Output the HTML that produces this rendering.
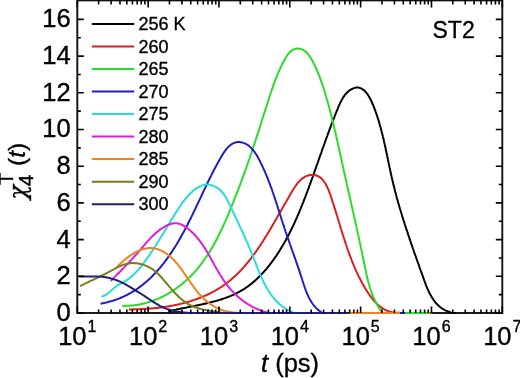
<!DOCTYPE html>
<html><head><meta charset="utf-8"><style>
html,body{margin:0;padding:0;background:#fff;}
svg{display:block;}
text{font-family:"Liberation Sans",Arial,sans-serif;fill:#000;stroke:#000;stroke-width:0.35px;}
</style></head><body>
<svg width="520" height="378" viewBox="0 0 520 378">
<rect width="520" height="378" fill="#fff"/>
<rect x="77.30" y="0.40" width="425.00" height="312.60" fill="none" stroke="#111" stroke-width="1.9"/>
<path d="M168.3 311.5 L169.0 311.3 L169.6 311.1 L170.2 311.0 L170.9 310.8 L171.5 310.7 L172.2 310.5 L172.9 310.4 L173.5 310.2 L174.2 310.1 L174.8 309.9 L175.5 309.8 L176.2 309.6 L176.8 309.5 L177.5 309.3 L178.2 309.2 L178.8 309.0 L179.5 308.9 L180.2 308.8 L180.9 308.6 L181.5 308.5 L182.2 308.3 L182.9 308.2 L183.6 308.1 L184.3 307.9 L185.0 307.8 L185.6 307.7 L186.3 307.5 L187.0 307.4 L187.7 307.2 L188.4 307.1 L189.1 307.0 L189.8 306.8 L190.5 306.7 L191.2 306.6 L191.9 306.4 L192.6 306.3 L193.3 306.1 L193.9 306.0 L194.6 305.9 L195.3 305.7 L196.0 305.6 L196.7 305.4 L197.4 305.3 L198.1 305.2 L198.8 305.0 L199.5 304.9 L200.2 304.7 L200.9 304.6 L201.6 304.4 L202.3 304.3 L203.0 304.1 L203.7 304.0 L204.4 303.8 L205.1 303.7 L205.8 303.5 L206.5 303.3 L207.2 303.2 L207.9 303.0 L208.6 302.8 L209.3 302.7 L209.9 302.5 L210.6 302.3 L211.3 302.2 L212.0 302.0 L212.7 301.8 L213.4 301.6 L214.1 301.4 L214.8 301.3 L215.4 301.1 L216.1 300.9 L216.8 300.7 L217.5 300.5 L218.2 300.3 L218.8 300.1 L219.5 299.9 L220.2 299.7 L220.9 299.5 L221.5 299.2 L222.2 299.0 L222.9 298.8 L223.5 298.6 L224.2 298.4 L224.9 298.1 L225.5 297.9 L226.2 297.7 L226.8 297.4 L227.5 297.2 L228.2 296.9 L228.8 296.7 L229.4 296.4 L230.1 296.1 L230.7 295.9 L231.4 295.6 L232.0 295.3 L232.6 295.1 L233.3 294.8 L233.9 294.5 L234.5 294.2 L235.2 293.9 L235.8 293.6 L236.4 293.3 L237.0 293.0 L237.6 292.7 L238.2 292.4 L238.8 292.0 L239.4 291.7 L240.0 291.4 L240.6 291.0 L241.2 290.7 L241.8 290.3 L242.4 290.0 L243.0 289.6 L243.6 289.3 L244.2 288.9 L244.7 288.5 L245.3 288.1 L245.9 287.7 L246.4 287.4 L247.0 287.0 L247.6 286.6 L248.1 286.2 L248.7 285.8 L249.2 285.4 L249.8 284.9 L250.3 284.5 L250.8 284.1 L251.4 283.7 L251.9 283.2 L252.5 282.8 L253.0 282.4 L253.5 281.9 L254.0 281.5 L254.6 281.0 L255.1 280.6 L255.6 280.1 L256.1 279.6 L256.6 279.2 L257.1 278.7 L257.6 278.2 L258.1 277.8 L258.6 277.3 L259.1 276.8 L259.6 276.3 L260.1 275.8 L260.6 275.3 L261.1 274.8 L261.5 274.3 L262.0 273.8 L262.5 273.3 L263.0 272.8 L263.4 272.3 L263.9 271.8 L264.4 271.2 L264.8 270.7 L265.3 270.2 L265.7 269.7 L266.2 269.1 L266.7 268.6 L267.1 268.1 L267.5 267.5 L268.0 267.0 L268.4 266.4 L268.9 265.9 L269.3 265.3 L269.7 264.8 L270.2 264.2 L270.6 263.7 L271.0 263.1 L271.4 262.5 L271.9 262.0 L272.3 261.4 L272.7 260.9 L273.1 260.3 L273.5 259.7 L273.9 259.1 L274.3 258.6 L274.8 258.0 L275.2 257.4 L275.6 256.8 L276.0 256.2 L276.3 255.7 L276.7 255.1 L277.1 254.5 L277.5 253.9 L277.9 253.3 L278.3 252.7 L278.7 252.1 L279.1 251.5 L279.4 250.9 L279.8 250.3 L280.2 249.7 L280.5 249.1 L280.9 248.5 L281.3 247.9 L281.6 247.3 L282.0 246.7 L282.4 246.1 L282.7 245.5 L283.1 244.9 L283.4 244.3 L283.8 243.7 L284.1 243.1 L284.5 242.5 L284.8 241.8 L285.2 241.2 L285.5 240.6 L285.9 240.0 L286.2 239.4 L286.5 238.8 L286.9 238.1 L287.2 237.5 L287.5 236.9 L287.9 236.3 L288.2 235.7 L288.5 235.0 L288.8 234.4 L289.2 233.8 L289.5 233.2 L289.8 232.5 L290.1 231.9 L290.4 231.3 L290.7 230.7 L291.0 230.0 L291.4 229.4 L291.7 228.8 L292.0 228.1 L292.3 227.5 L292.6 226.9 L292.9 226.2 L293.2 225.6 L293.5 225.0 L293.8 224.3 L294.1 223.7 L294.4 223.1 L294.7 222.4 L295.0 221.8 L295.2 221.2 L295.5 220.5 L295.8 219.9 L296.1 219.2 L296.4 218.6 L296.7 218.0 L297.0 217.3 L297.2 216.7 L297.5 216.0 L297.8 215.4 L298.1 214.8 L298.3 214.1 L298.6 213.5 L298.9 212.8 L299.2 212.2 L299.4 211.5 L299.7 210.9 L300.0 210.2 L300.2 209.6 L300.5 209.0 L300.8 208.3 L301.0 207.7 L301.3 207.0 L301.6 206.4 L301.8 205.7 L302.1 205.1 L302.3 204.4 L302.6 203.8 L302.9 203.1 L303.1 202.5 L303.4 201.8 L303.6 201.2 L303.9 200.5 L304.1 199.9 L304.4 199.2 L304.6 198.6 L304.9 197.9 L305.1 197.3 L305.4 196.6 L305.6 196.0 L305.9 195.3 L306.1 194.7 L306.4 194.0 L306.6 193.4 L306.9 192.7 L307.1 192.1 L307.4 191.4 L307.6 190.8 L307.8 190.1 L308.1 189.5 L308.3 188.8 L308.6 188.2 L308.8 187.5 L309.0 186.9 L309.3 186.2 L309.5 185.6 L309.8 184.9 L310.0 184.3 L310.2 183.6 L310.5 183.0 L310.7 182.3 L310.9 181.7 L311.2 181.0 L311.4 180.4 L311.6 179.7 L311.9 179.1 L312.1 178.4 L312.3 177.8 L312.6 177.1 L312.8 176.5 L313.0 175.8 L313.3 175.2 L313.5 174.5 L313.7 173.9 L314.0 173.2 L314.2 172.6 L314.4 171.9 L314.7 171.3 L314.9 170.6 L315.1 170.0 L315.4 169.3 L315.6 168.6 L315.8 168.0 L316.0 167.3 L316.3 166.7 L316.5 166.0 L316.7 165.4 L317.0 164.7 L317.2 164.1 L317.4 163.4 L317.7 162.8 L317.9 162.1 L318.1 161.5 L318.3 160.8 L318.6 160.2 L318.8 159.5 L319.0 158.9 L319.3 158.2 L319.5 157.6 L319.7 156.9 L320.0 156.3 L320.2 155.6 L320.4 154.9 L320.7 154.3 L320.9 153.6 L321.1 153.0 L321.4 152.3 L321.6 151.7 L321.8 151.0 L322.0 150.4 L322.3 149.7 L322.5 149.0 L322.7 148.4 L323.0 147.7 L323.2 147.1 L323.5 146.4 L323.7 145.8 L323.9 145.1 L324.2 144.4 L324.4 143.8 L324.6 143.1 L324.9 142.5 L325.1 141.8 L325.3 141.1 L325.6 140.5 L325.8 139.8 L326.1 139.2 L326.3 138.5 L326.5 137.8 L326.8 137.2 L327.0 136.5 L327.3 135.8 L327.5 135.2 L327.7 134.5 L328.0 133.9 L328.2 133.2 L328.5 132.5 L328.7 131.9 L329.0 131.2 L329.2 130.5 L329.5 129.9 L329.7 129.2 L330.0 128.5 L330.2 127.9 L330.5 127.2 L330.7 126.5 L331.0 125.9 L331.2 125.2 L331.5 124.5 L331.7 123.8 L332.0 123.2 L332.2 122.5 L332.5 121.8 L332.8 121.2 L333.0 120.5 L333.3 119.8 L333.5 119.1 L333.8 118.5 L334.1 117.8 L334.3 117.1 L334.6 116.4 L334.9 115.8 L335.1 115.1 L335.4 114.4 L335.7 113.7 L335.9 113.0 L336.2 112.4 L336.5 111.7 L336.8 111.0 L337.0 110.3 L337.3 109.6 L337.6 109.0 L337.9 108.3 L338.1 107.6 L338.4 106.9 L338.7 106.2 L339.0 105.6 L339.3 104.9 L339.6 104.2 L339.9 103.6 L340.2 102.9 L340.5 102.2 L340.9 101.6 L341.2 100.9 L341.5 100.3 L341.9 99.7 L342.2 99.1 L342.6 98.4 L342.9 97.8 L343.3 97.2 L343.7 96.7 L344.1 96.1 L344.5 95.5 L344.9 95.0 L345.4 94.4 L345.8 93.9 L346.3 93.4 L346.7 92.9 L347.2 92.4 L347.7 92.0 L348.2 91.5 L348.7 91.1 L349.3 90.6 L349.8 90.2 L350.4 89.9 L351.0 89.5 L351.6 89.2 L352.2 88.8 L352.8 88.6 L353.4 88.3 L354.0 88.1 L354.7 87.9 L355.3 87.7 L355.9 87.6 L356.6 87.6 L357.2 87.5 L357.8 87.6 L358.5 87.6 L359.1 87.7 L359.7 87.9 L360.3 88.1 L360.9 88.3 L361.5 88.6 L362.1 88.9 L362.6 89.3 L363.2 89.7 L363.7 90.1 L364.3 90.5 L364.8 91.0 L365.3 91.5 L365.7 92.1 L366.2 92.6 L366.7 93.2 L367.1 93.8 L367.6 94.4 L368.0 95.0 L368.4 95.6 L368.8 96.3 L369.2 96.9 L369.6 97.6 L369.9 98.2 L370.3 98.9 L370.6 99.6 L371.0 100.2 L371.3 100.9 L371.6 101.5 L371.9 102.2 L372.2 102.8 L372.4 103.5 L372.7 104.1 L373.0 104.8 L373.3 105.4 L373.5 106.1 L373.8 106.7 L374.0 107.4 L374.3 108.0 L374.5 108.7 L374.8 109.3 L375.0 110.0 L375.3 110.6 L375.5 111.3 L375.7 111.9 L376.0 112.6 L376.2 113.2 L376.4 113.9 L376.6 114.6 L376.9 115.2 L377.1 115.9 L377.3 116.5 L377.5 117.2 L377.7 117.9 L377.9 118.5 L378.1 119.2 L378.4 119.9 L378.6 120.5 L378.8 121.2 L379.0 121.9 L379.2 122.5 L379.4 123.2 L379.6 123.9 L379.7 124.5 L379.9 125.2 L380.1 125.9 L380.3 126.6 L380.5 127.2 L380.7 127.9 L380.9 128.6 L381.0 129.3 L381.2 129.9 L381.4 130.6 L381.6 131.3 L381.7 132.0 L381.9 132.6 L382.1 133.3 L382.3 134.0 L382.4 134.7 L382.6 135.4 L382.8 136.0 L382.9 136.7 L383.1 137.4 L383.3 138.1 L383.4 138.8 L383.6 139.4 L383.7 140.1 L383.9 140.8 L384.0 141.5 L384.2 142.2 L384.4 142.9 L384.5 143.5 L384.7 144.2 L384.8 144.9 L385.0 145.6 L385.1 146.3 L385.3 147.0 L385.4 147.6 L385.6 148.3 L385.7 149.0 L385.9 149.7 L386.0 150.4 L386.2 151.1 L386.3 151.8 L386.4 152.4 L386.6 153.1 L386.7 153.8 L386.9 154.5 L387.0 155.2 L387.2 155.9 L387.3 156.6 L387.5 157.3 L387.6 157.9 L387.7 158.6 L387.9 159.3 L388.0 160.0 L388.2 160.7 L388.3 161.4 L388.5 162.1 L388.6 162.7 L388.7 163.4 L388.9 164.1 L389.0 164.8 L389.2 165.5 L389.3 166.2 L389.5 166.9 L389.6 167.5 L389.8 168.2 L389.9 168.9 L390.0 169.6 L390.2 170.3 L390.3 171.0 L390.5 171.6 L390.6 172.3 L390.8 173.0 L390.9 173.7 L391.1 174.4 L391.2 175.1 L391.4 175.7 L391.5 176.4 L391.7 177.1 L391.9 177.8 L392.0 178.5 L392.2 179.1 L392.3 179.8 L392.5 180.5 L392.6 181.2 L392.8 181.9 L393.0 182.5 L393.1 183.2 L393.3 183.9 L393.4 184.6 L393.6 185.2 L393.8 185.9 L393.9 186.6 L394.1 187.3 L394.3 187.9 L394.5 188.6 L394.6 189.3 L394.8 190.0 L395.0 190.6 L395.1 191.3 L395.3 192.0 L395.5 192.6 L395.7 193.3 L395.9 194.0 L396.0 194.7 L396.2 195.3 L396.4 196.0 L396.6 196.7 L396.8 197.3 L396.9 198.0 L397.1 198.7 L397.3 199.3 L397.5 200.0 L397.7 200.7 L397.9 201.4 L398.1 202.0 L398.2 202.7 L398.4 203.4 L398.6 204.0 L398.8 204.7 L399.0 205.4 L399.2 206.0 L399.4 206.7 L399.6 207.3 L399.8 208.0 L400.0 208.7 L400.2 209.3 L400.4 210.0 L400.6 210.7 L400.8 211.3 L401.0 212.0 L401.2 212.7 L401.4 213.3 L401.6 214.0 L401.8 214.7 L402.0 215.3 L402.2 216.0 L402.4 216.6 L402.6 217.3 L402.8 218.0 L403.0 218.6 L403.2 219.3 L403.4 220.0 L403.6 220.6 L403.9 221.3 L404.1 221.9 L404.3 222.6 L404.5 223.3 L404.7 223.9 L404.9 224.6 L405.1 225.3 L405.3 225.9 L405.6 226.6 L405.8 227.2 L406.0 227.9 L406.2 228.6 L406.4 229.2 L406.6 229.9 L406.9 230.6 L407.1 231.2 L407.3 231.9 L407.5 232.5 L407.7 233.2 L408.0 233.9 L408.2 234.5 L408.4 235.2 L408.6 235.8 L408.8 236.5 L409.1 237.2 L409.3 237.8 L409.5 238.5 L409.7 239.2 L410.0 239.8 L410.2 240.5 L410.4 241.1 L410.6 241.8 L410.9 242.5 L411.1 243.1 L411.3 243.8 L411.5 244.5 L411.8 245.1 L412.0 245.8 L412.2 246.5 L412.5 247.1 L412.7 247.8 L412.9 248.4 L413.2 249.1 L413.4 249.8 L413.6 250.4 L413.9 251.1 L414.1 251.8 L414.3 252.4 L414.5 253.1 L414.8 253.8 L415.0 254.4 L415.2 255.1 L415.5 255.8 L415.7 256.4 L416.0 257.1 L416.2 257.8 L416.4 258.4 L416.7 259.1 L416.9 259.8 L417.1 260.4 L417.4 261.1 L417.6 261.8 L417.8 262.4 L418.1 263.1 L418.3 263.8 L418.6 264.4 L418.8 265.1 L419.0 265.8 L419.3 266.4 L419.5 267.1 L419.7 267.8 L420.0 268.5 L420.2 269.1 L420.5 269.8 L420.7 270.5 L420.9 271.1 L421.2 271.8 L421.4 272.5 L421.7 273.2 L421.9 273.8 L422.1 274.5 L422.4 275.2 L422.6 275.9 L422.9 276.5 L423.1 277.2 L423.3 277.9 L423.6 278.6 L423.8 279.2 L424.1 279.9 L424.3 280.6 L424.6 281.3 L424.8 281.9 L425.1 282.6 L425.3 283.3 L425.6 283.9 L425.8 284.6 L426.1 285.3 L426.3 285.9 L426.6 286.6 L426.9 287.2 L427.1 287.9 L427.4 288.5 L427.7 289.2 L428.0 289.8 L428.3 290.5 L428.6 291.1 L428.8 291.7 L429.1 292.4 L429.5 293.0 L429.8 293.6 L430.1 294.2 L430.4 294.8 L430.7 295.4 L431.1 296.0 L431.4 296.6 L431.8 297.2 L432.1 297.7 L432.5 298.3 L432.8 298.9 L433.2 299.4 L433.6 300.0 L434.0 300.5 L434.4 301.0 L434.8 301.6 L435.2 302.1 L435.6 302.6 L436.0 303.1 L436.5 303.6 L436.9 304.1 L437.4 304.5 L437.8 305.0 L438.3 305.4 L438.8 305.9 L439.3 306.3 L439.8 306.7 L440.3 307.2 L440.8 307.6 L441.4 307.9 L441.9 308.3 L442.5 308.7 L443.0 309.1 L443.6 309.4 L444.2 309.7 L444.8 310.1 L445.4 310.4 L446.1 310.7 L446.7 310.9 L447.4 311.2 L448.0 311.5 L448.7 311.7 L449.4 312.0 L450.1 312.2 L450.8 312.4 L451.6 312.6 L452.3 312.8 L453.1 312.9 L453.9 313.0 L454.7 313.0 L455.5 313.0 L456.3 313.0" fill="none" stroke="#000000" stroke-width="2" stroke-linejoin="round"/>
<path d="M128.8 309.4 L129.5 309.4 L130.2 309.4 L130.9 309.4 L131.6 309.4 L132.3 309.4 L133.0 309.4 L133.7 309.3 L134.3 309.3 L135.0 309.3 L135.7 309.3 L136.4 309.3 L137.1 309.3 L137.8 309.2 L138.5 309.2 L139.2 309.2 L139.9 309.2 L140.6 309.1 L141.3 309.1 L142.0 309.1 L142.7 309.0 L143.4 309.0 L144.1 309.0 L144.8 308.9 L145.5 308.9 L146.2 308.8 L146.9 308.8 L147.6 308.8 L148.3 308.7 L149.0 308.7 L149.7 308.6 L150.4 308.5 L151.1 308.5 L151.8 308.4 L152.5 308.4 L153.2 308.3 L153.9 308.2 L154.6 308.2 L155.3 308.1 L156.0 308.0 L156.7 307.9 L157.4 307.9 L158.1 307.8 L158.8 307.7 L159.5 307.6 L160.2 307.5 L160.9 307.4 L161.5 307.4 L162.2 307.3 L162.9 307.2 L163.6 307.1 L164.3 307.0 L165.0 306.9 L165.7 306.8 L166.4 306.6 L167.1 306.5 L167.8 306.4 L168.5 306.3 L169.2 306.2 L169.9 306.1 L170.6 305.9 L171.3 305.8 L172.0 305.7 L172.7 305.6 L173.4 305.4 L174.0 305.3 L174.7 305.1 L175.4 305.0 L176.1 304.9 L176.8 304.7 L177.5 304.6 L178.2 304.4 L178.8 304.3 L179.5 304.1 L180.2 303.9 L180.9 303.8 L181.6 303.6 L182.2 303.4 L182.9 303.3 L183.6 303.1 L184.3 302.9 L185.0 302.7 L185.6 302.5 L186.3 302.4 L187.0 302.2 L187.6 302.0 L188.3 301.8 L189.0 301.6 L189.7 301.4 L190.3 301.2 L191.0 301.0 L191.6 300.8 L192.3 300.5 L193.0 300.3 L193.6 300.1 L194.3 299.9 L194.9 299.7 L195.6 299.4 L196.2 299.2 L196.9 299.0 L197.6 298.7 L198.2 298.5 L198.8 298.2 L199.5 298.0 L200.1 297.7 L200.8 297.5 L201.4 297.2 L202.1 297.0 L202.7 296.7 L203.3 296.4 L204.0 296.2 L204.6 295.9 L205.2 295.6 L205.9 295.3 L206.5 295.0 L207.1 294.8 L207.7 294.5 L208.4 294.2 L209.0 293.9 L209.6 293.6 L210.2 293.3 L210.8 293.0 L211.4 292.6 L212.0 292.3 L212.7 292.0 L213.3 291.7 L213.9 291.4 L214.5 291.0 L215.1 290.7 L215.7 290.4 L216.3 290.0 L216.8 289.7 L217.4 289.3 L218.0 289.0 L218.6 288.6 L219.2 288.2 L219.8 287.9 L220.4 287.5 L220.9 287.1 L221.5 286.8 L222.1 286.4 L222.6 286.0 L223.2 285.6 L223.8 285.2 L224.3 284.8 L224.9 284.4 L225.5 284.0 L226.0 283.6 L226.6 283.2 L227.1 282.8 L227.7 282.4 L228.2 282.0 L228.7 281.5 L229.3 281.1 L229.8 280.7 L230.3 280.2 L230.9 279.8 L231.4 279.3 L231.9 278.9 L232.4 278.4 L233.0 278.0 L233.5 277.5 L234.0 277.1 L234.5 276.6 L235.0 276.1 L235.5 275.7 L236.0 275.2 L236.5 274.7 L237.0 274.2 L237.5 273.7 L238.0 273.2 L238.5 272.7 L239.0 272.2 L239.5 271.7 L240.0 271.2 L240.5 270.7 L240.9 270.2 L241.4 269.7 L241.9 269.2 L242.4 268.7 L242.8 268.2 L243.3 267.6 L243.8 267.1 L244.2 266.6 L244.7 266.1 L245.2 265.5 L245.6 265.0 L246.1 264.5 L246.5 263.9 L247.0 263.4 L247.4 262.8 L247.9 262.3 L248.3 261.7 L248.8 261.2 L249.2 260.6 L249.6 260.1 L250.1 259.5 L250.5 259.0 L251.0 258.4 L251.4 257.9 L251.8 257.3 L252.2 256.7 L252.7 256.2 L253.1 255.6 L253.5 255.0 L253.9 254.5 L254.3 253.9 L254.8 253.3 L255.2 252.7 L255.6 252.2 L256.0 251.6 L256.4 251.0 L256.8 250.4 L257.2 249.8 L257.6 249.2 L258.0 248.7 L258.4 248.1 L258.8 247.5 L259.2 246.9 L259.6 246.3 L260.0 245.7 L260.4 245.1 L260.8 244.5 L261.1 243.9 L261.5 243.4 L261.9 242.8 L262.3 242.2 L262.7 241.6 L263.1 241.0 L263.4 240.4 L263.8 239.8 L264.2 239.2 L264.6 238.6 L264.9 238.0 L265.3 237.4 L265.7 236.8 L266.0 236.2 L266.4 235.6 L266.8 235.0 L267.1 234.4 L267.5 233.8 L267.8 233.2 L268.2 232.6 L268.6 232.0 L268.9 231.4 L269.3 230.9 L269.6 230.3 L270.0 229.7 L270.3 229.1 L270.7 228.5 L271.0 227.9 L271.4 227.3 L271.7 226.7 L272.1 226.1 L272.4 225.5 L272.8 224.9 L273.1 224.3 L273.4 223.8 L273.8 223.2 L274.1 222.6 L274.5 222.0 L274.8 221.4 L275.1 220.8 L275.5 220.3 L275.8 219.7 L276.1 219.1 L276.5 218.5 L276.8 217.9 L277.2 217.4 L277.5 216.8 L277.8 216.2 L278.2 215.6 L278.5 215.0 L278.8 214.5 L279.2 213.9 L279.5 213.3 L279.8 212.7 L280.2 212.1 L280.5 211.5 L280.8 211.0 L281.2 210.4 L281.5 209.8 L281.9 209.2 L282.2 208.6 L282.5 208.0 L282.9 207.4 L283.2 206.8 L283.6 206.2 L283.9 205.6 L284.2 205.0 L284.6 204.4 L284.9 203.8 L285.3 203.2 L285.6 202.6 L286.0 202.0 L286.3 201.3 L286.7 200.7 L287.0 200.1 L287.4 199.5 L287.8 198.8 L288.1 198.2 L288.5 197.6 L288.9 196.9 L289.2 196.3 L289.6 195.6 L290.0 195.0 L290.3 194.3 L290.7 193.7 L291.1 193.0 L291.5 192.4 L291.9 191.7 L292.2 191.1 L292.6 190.4 L293.0 189.8 L293.4 189.1 L293.8 188.5 L294.3 187.8 L294.7 187.2 L295.1 186.6 L295.5 186.0 L296.0 185.4 L296.4 184.8 L296.8 184.2 L297.3 183.6 L297.7 183.0 L298.2 182.5 L298.7 181.9 L299.2 181.4 L299.7 180.9 L300.2 180.4 L300.7 179.9 L301.2 179.4 L301.7 179.0 L302.2 178.6 L302.8 178.2 L303.3 177.8 L303.9 177.4 L304.4 177.1 L305.0 176.7 L305.6 176.4 L306.2 176.2 L306.8 175.9 L307.5 175.7 L308.1 175.5 L308.7 175.3 L309.4 175.2 L310.0 175.1 L310.7 175.0 L311.3 174.9 L312.0 174.9 L312.7 174.9 L313.3 174.9 L313.9 175.0 L314.6 175.0 L315.2 175.2 L315.8 175.3 L316.4 175.5 L317.0 175.7 L317.6 175.9 L318.1 176.2 L318.7 176.5 L319.2 176.8 L319.7 177.1 L320.2 177.5 L320.7 177.9 L321.2 178.3 L321.7 178.8 L322.1 179.2 L322.6 179.7 L323.0 180.2 L323.4 180.7 L323.8 181.3 L324.2 181.8 L324.6 182.4 L325.0 183.0 L325.4 183.6 L325.8 184.2 L326.1 184.9 L326.5 185.5 L326.8 186.2 L327.1 186.8 L327.4 187.5 L327.8 188.2 L328.1 188.9 L328.4 189.6 L328.7 190.3 L329.0 191.1 L329.2 191.8 L329.5 192.5 L329.8 193.3 L330.1 194.0 L330.3 194.7 L330.6 195.5 L330.8 196.2 L331.1 197.0 L331.3 197.7 L331.6 198.4 L331.8 199.2 L332.0 199.9 L332.3 200.6 L332.5 201.4 L332.7 202.1 L333.0 202.8 L333.2 203.5 L333.4 204.2 L333.6 204.9 L333.9 205.6 L334.1 206.3 L334.3 207.0 L334.5 207.7 L334.7 208.4 L334.9 209.0 L335.2 209.7 L335.4 210.4 L335.6 211.1 L335.8 211.7 L336.0 212.4 L336.2 213.0 L336.4 213.7 L336.6 214.4 L336.8 215.0 L337.0 215.7 L337.2 216.3 L337.4 217.0 L337.6 217.6 L337.8 218.3 L338.0 218.9 L338.2 219.6 L338.4 220.2 L338.6 220.8 L338.8 221.5 L339.0 222.1 L339.2 222.8 L339.4 223.4 L339.6 224.0 L339.8 224.7 L340.0 225.3 L340.1 226.0 L340.3 226.6 L340.5 227.2 L340.7 227.9 L340.9 228.5 L341.1 229.2 L341.3 229.8 L341.5 230.4 L341.7 231.1 L341.9 231.7 L342.1 232.4 L342.3 233.0 L342.5 233.7 L342.7 234.3 L342.9 235.0 L343.1 235.6 L343.3 236.3 L343.6 236.9 L343.8 237.6 L344.0 238.2 L344.2 238.9 L344.4 239.5 L344.6 240.2 L344.8 240.8 L345.0 241.5 L345.2 242.2 L345.5 242.8 L345.7 243.5 L345.9 244.1 L346.1 244.8 L346.3 245.4 L346.6 246.1 L346.8 246.8 L347.0 247.4 L347.2 248.1 L347.5 248.8 L347.7 249.4 L347.9 250.1 L348.2 250.7 L348.4 251.4 L348.6 252.1 L348.9 252.7 L349.1 253.4 L349.3 254.0 L349.6 254.7 L349.8 255.4 L350.1 256.0 L350.3 256.7 L350.6 257.4 L350.8 258.0 L351.1 258.7 L351.3 259.3 L351.6 260.0 L351.8 260.6 L352.1 261.3 L352.4 262.0 L352.6 262.6 L352.9 263.3 L353.2 263.9 L353.4 264.6 L353.7 265.2 L354.0 265.9 L354.2 266.6 L354.5 267.2 L354.8 267.9 L355.1 268.5 L355.4 269.2 L355.7 269.8 L355.9 270.4 L356.2 271.1 L356.5 271.7 L356.8 272.4 L357.1 273.0 L357.4 273.7 L357.7 274.3 L358.0 274.9 L358.3 275.6 L358.6 276.2 L359.0 276.9 L359.3 277.5 L359.6 278.1 L359.9 278.8 L360.2 279.4 L360.6 280.0 L360.9 280.6 L361.2 281.3 L361.5 281.9 L361.9 282.5 L362.2 283.1 L362.6 283.7 L362.9 284.4 L363.3 285.0 L363.6 285.6 L364.0 286.2 L364.3 286.8 L364.7 287.4 L365.0 288.0 L365.4 288.6 L365.8 289.2 L366.1 289.8 L366.5 290.4 L366.9 291.0 L367.3 291.6 L367.6 292.2 L368.0 292.7 L368.4 293.3 L368.8 293.9 L369.2 294.5 L369.6 295.1 L370.0 295.6 L370.4 296.2 L370.8 296.7 L371.2 297.3 L371.7 297.9 L372.1 298.4 L372.5 298.9 L372.9 299.5 L373.4 300.0 L373.8 300.5 L374.3 301.1 L374.7 301.6 L375.2 302.1 L375.7 302.6 L376.1 303.0 L376.6 303.5 L377.1 304.0 L377.6 304.5 L378.1 304.9 L378.6 305.4 L379.1 305.8 L379.6 306.2 L380.1 306.6 L380.7 307.0 L381.2 307.4 L381.8 307.8 L382.3 308.2 L382.9 308.5 L383.5 308.9 L384.0 309.2 L384.6 309.5 L385.2 309.8 L385.8 310.1 L386.5 310.4 L387.1 310.7 L387.7 310.9 L388.4 311.2 L389.0 311.4 L389.7 311.6 L390.4 311.8 L391.0 312.0 L391.7 312.1 L392.5 312.3 L393.2 312.4 L393.9 312.5 L394.6 312.6 L395.4 312.7 L396.1 312.7 L396.9 312.8 L397.7 312.8 L398.5 312.8 L399.3 312.8 L400.1 312.8" fill="none" stroke="#dc1e1e" stroke-width="2" stroke-linejoin="round"/>
<path d="M122.4 305.9 L123.2 305.9 L123.9 305.9 L124.6 305.9 L125.3 305.9 L126.1 305.8 L126.8 305.8 L127.5 305.8 L128.3 305.8 L129.0 305.7 L129.7 305.7 L130.4 305.6 L131.1 305.6 L131.8 305.5 L132.6 305.4 L133.3 305.4 L134.0 305.3 L134.7 305.2 L135.4 305.1 L136.1 305.0 L136.8 304.9 L137.5 304.8 L138.2 304.7 L138.9 304.5 L139.6 304.4 L140.3 304.3 L141.0 304.1 L141.7 304.0 L142.3 303.8 L143.0 303.7 L143.7 303.5 L144.4 303.4 L145.1 303.2 L145.8 303.0 L146.4 302.8 L147.1 302.6 L147.8 302.4 L148.4 302.2 L149.1 302.0 L149.8 301.8 L150.4 301.6 L151.1 301.4 L151.8 301.2 L152.4 300.9 L153.1 300.7 L153.7 300.5 L154.4 300.2 L155.0 300.0 L155.7 299.7 L156.3 299.4 L157.0 299.2 L157.6 298.9 L158.2 298.6 L158.9 298.4 L159.5 298.1 L160.2 297.8 L160.8 297.5 L161.4 297.2 L162.0 296.9 L162.7 296.6 L163.3 296.3 L163.9 296.0 L164.5 295.6 L165.1 295.3 L165.7 295.0 L166.3 294.6 L167.0 294.3 L167.6 294.0 L168.2 293.6 L168.8 293.3 L169.4 292.9 L169.9 292.6 L170.5 292.2 L171.1 291.8 L171.7 291.5 L172.3 291.1 L172.9 290.7 L173.5 290.3 L174.0 289.9 L174.6 289.5 L175.2 289.1 L175.8 288.7 L176.3 288.3 L176.9 287.9 L177.4 287.5 L178.0 287.1 L178.6 286.7 L179.1 286.3 L179.7 285.8 L180.2 285.4 L180.8 285.0 L181.3 284.6 L181.8 284.1 L182.4 283.7 L182.9 283.2 L183.5 282.8 L184.0 282.3 L184.5 281.9 L185.0 281.4 L185.6 281.0 L186.1 280.5 L186.6 280.0 L187.1 279.5 L187.6 279.1 L188.1 278.6 L188.6 278.1 L189.1 277.6 L189.6 277.1 L190.1 276.7 L190.6 276.2 L191.1 275.7 L191.6 275.2 L192.1 274.7 L192.6 274.2 L193.0 273.7 L193.5 273.1 L194.0 272.6 L194.5 272.1 L194.9 271.6 L195.4 271.1 L195.8 270.6 L196.3 270.0 L196.8 269.5 L197.2 269.0 L197.7 268.4 L198.1 267.9 L198.5 267.4 L199.0 266.8 L199.4 266.3 L199.9 265.7 L200.3 265.2 L200.7 264.6 L201.1 264.1 L201.6 263.5 L202.0 263.0 L202.4 262.4 L202.8 261.9 L203.2 261.3 L203.6 260.7 L204.0 260.2 L204.4 259.6 L204.8 259.0 L205.2 258.5 L205.6 257.9 L206.0 257.3 L206.4 256.7 L206.8 256.2 L207.2 255.6 L207.6 255.0 L207.9 254.4 L208.3 253.8 L208.7 253.2 L209.1 252.7 L209.4 252.1 L209.8 251.5 L210.2 250.9 L210.5 250.3 L210.9 249.7 L211.2 249.1 L211.6 248.5 L212.0 247.9 L212.3 247.3 L212.7 246.7 L213.0 246.1 L213.3 245.4 L213.7 244.8 L214.0 244.2 L214.4 243.6 L214.7 243.0 L215.0 242.4 L215.4 241.8 L215.7 241.2 L216.0 240.5 L216.4 239.9 L216.7 239.3 L217.0 238.7 L217.3 238.0 L217.7 237.4 L218.0 236.8 L218.3 236.2 L218.6 235.5 L218.9 234.9 L219.2 234.3 L219.5 233.6 L219.9 233.0 L220.2 232.4 L220.5 231.8 L220.8 231.1 L221.1 230.5 L221.4 229.8 L221.7 229.2 L222.0 228.6 L222.3 227.9 L222.6 227.3 L222.9 226.7 L223.2 226.0 L223.4 225.4 L223.7 224.7 L224.0 224.1 L224.3 223.5 L224.6 222.8 L224.9 222.2 L225.2 221.5 L225.5 220.9 L225.7 220.2 L226.0 219.6 L226.3 218.9 L226.6 218.3 L226.9 217.6 L227.1 217.0 L227.4 216.4 L227.7 215.7 L228.0 215.1 L228.2 214.4 L228.5 213.8 L228.8 213.1 L229.0 212.5 L229.3 211.8 L229.6 211.2 L229.9 210.5 L230.1 209.9 L230.4 209.2 L230.7 208.6 L230.9 207.9 L231.2 207.3 L231.5 206.6 L231.7 206.0 L232.0 205.3 L232.2 204.7 L232.5 204.1 L232.8 203.4 L233.0 202.8 L233.3 202.1 L233.5 201.5 L233.8 200.8 L234.1 200.2 L234.3 199.5 L234.6 198.9 L234.8 198.2 L235.1 197.6 L235.3 196.9 L235.6 196.3 L235.9 195.6 L236.1 195.0 L236.4 194.3 L236.6 193.7 L236.9 193.0 L237.1 192.4 L237.4 191.7 L237.6 191.1 L237.9 190.4 L238.1 189.8 L238.4 189.1 L238.6 188.5 L238.9 187.8 L239.1 187.2 L239.4 186.5 L239.6 185.9 L239.8 185.2 L240.1 184.6 L240.3 183.9 L240.6 183.3 L240.8 182.6 L241.1 182.0 L241.3 181.3 L241.5 180.7 L241.8 180.0 L242.0 179.4 L242.3 178.7 L242.5 178.1 L242.7 177.4 L243.0 176.8 L243.2 176.1 L243.5 175.5 L243.7 174.8 L243.9 174.2 L244.2 173.5 L244.4 172.9 L244.6 172.2 L244.9 171.6 L245.1 170.9 L245.3 170.3 L245.6 169.6 L245.8 169.0 L246.0 168.3 L246.3 167.6 L246.5 167.0 L246.7 166.3 L247.0 165.7 L247.2 165.0 L247.4 164.4 L247.7 163.7 L247.9 163.1 L248.1 162.4 L248.3 161.7 L248.6 161.1 L248.8 160.4 L249.0 159.8 L249.3 159.1 L249.5 158.5 L249.7 157.8 L249.9 157.1 L250.2 156.5 L250.4 155.8 L250.6 155.2 L250.8 154.5 L251.1 153.8 L251.3 153.2 L251.5 152.5 L251.7 151.9 L252.0 151.2 L252.2 150.5 L252.4 149.9 L252.6 149.2 L252.8 148.5 L253.1 147.9 L253.3 147.2 L253.5 146.6 L253.7 145.9 L254.0 145.2 L254.2 144.6 L254.4 143.9 L254.6 143.2 L254.8 142.6 L255.1 141.9 L255.3 141.2 L255.5 140.6 L255.7 139.9 L255.9 139.2 L256.1 138.6 L256.4 137.9 L256.6 137.2 L256.8 136.5 L257.0 135.9 L257.2 135.2 L257.4 134.5 L257.7 133.9 L257.9 133.2 L258.1 132.5 L258.3 131.8 L258.5 131.2 L258.7 130.5 L259.0 129.8 L259.2 129.1 L259.4 128.5 L259.6 127.8 L259.8 127.1 L260.0 126.4 L260.2 125.8 L260.5 125.1 L260.7 124.4 L260.9 123.8 L261.1 123.1 L261.3 122.4 L261.5 121.7 L261.7 121.1 L262.0 120.4 L262.2 119.7 L262.4 119.0 L262.6 118.4 L262.8 117.7 L263.0 117.0 L263.2 116.3 L263.4 115.7 L263.7 115.0 L263.9 114.3 L264.1 113.6 L264.3 113.0 L264.5 112.3 L264.7 111.6 L264.9 111.0 L265.1 110.3 L265.3 109.6 L265.6 109.0 L265.8 108.3 L266.0 107.6 L266.2 107.0 L266.4 106.3 L266.6 105.6 L266.8 105.0 L267.0 104.3 L267.3 103.6 L267.5 103.0 L267.7 102.3 L267.9 101.6 L268.1 101.0 L268.3 100.3 L268.5 99.7 L268.7 99.0 L269.0 98.4 L269.2 97.7 L269.4 97.0 L269.6 96.4 L269.8 95.7 L270.0 95.1 L270.2 94.4 L270.4 93.8 L270.7 93.1 L270.9 92.5 L271.1 91.8 L271.3 91.2 L271.5 90.5 L271.7 89.9 L272.0 89.3 L272.2 88.6 L272.4 88.0 L272.6 87.3 L272.9 86.7 L273.1 86.0 L273.3 85.4 L273.5 84.7 L273.8 84.1 L274.0 83.4 L274.2 82.8 L274.5 82.2 L274.7 81.5 L275.0 80.9 L275.2 80.2 L275.5 79.6 L275.7 78.9 L276.0 78.3 L276.2 77.6 L276.5 77.0 L276.8 76.3 L277.0 75.7 L277.3 75.0 L277.6 74.4 L277.8 73.7 L278.1 73.1 L278.4 72.4 L278.7 71.8 L279.0 71.1 L279.3 70.4 L279.6 69.8 L279.9 69.1 L280.2 68.5 L280.5 67.8 L280.8 67.1 L281.1 66.5 L281.4 65.8 L281.8 65.1 L282.1 64.5 L282.4 63.8 L282.8 63.1 L283.1 62.4 L283.5 61.8 L283.8 61.1 L284.2 60.4 L284.6 59.7 L284.9 59.1 L285.3 58.4 L285.7 57.7 L286.1 57.1 L286.5 56.5 L286.9 55.8 L287.3 55.2 L287.8 54.6 L288.2 54.1 L288.7 53.5 L289.1 53.0 L289.6 52.5 L290.1 52.0 L290.6 51.5 L291.1 51.1 L291.6 50.7 L292.1 50.3 L292.7 50.0 L293.2 49.7 L293.8 49.4 L294.4 49.2 L295.0 49.0 L295.6 48.8 L296.2 48.7 L296.8 48.6 L297.5 48.6 L298.1 48.6 L298.7 48.6 L299.4 48.7 L300.0 48.8 L300.6 49.0 L301.3 49.2 L301.9 49.4 L302.5 49.6 L303.1 49.9 L303.6 50.3 L304.2 50.6 L304.7 51.0 L305.3 51.4 L305.8 51.9 L306.3 52.3 L306.8 52.8 L307.3 53.3 L307.8 53.9 L308.2 54.4 L308.7 55.0 L309.1 55.6 L309.6 56.2 L310.0 56.8 L310.4 57.4 L310.8 58.1 L311.2 58.7 L311.6 59.4 L312.0 60.0 L312.4 60.7 L312.7 61.4 L313.1 62.1 L313.4 62.8 L313.8 63.5 L314.1 64.1 L314.5 64.8 L314.8 65.5 L315.1 66.2 L315.4 66.8 L315.7 67.5 L316.0 68.2 L316.3 68.8 L316.6 69.5 L316.9 70.2 L317.2 70.8 L317.5 71.5 L317.7 72.1 L318.0 72.8 L318.3 73.4 L318.5 74.1 L318.8 74.7 L319.1 75.4 L319.3 76.0 L319.5 76.7 L319.8 77.3 L320.0 78.0 L320.3 78.6 L320.5 79.2 L320.7 79.9 L321.0 80.5 L321.2 81.2 L321.4 81.8 L321.6 82.5 L321.9 83.1 L322.1 83.8 L322.3 84.4 L322.5 85.0 L322.7 85.7 L323.0 86.3 L323.2 87.0 L323.4 87.6 L323.6 88.3 L323.8 88.9 L324.0 89.6 L324.2 90.3 L324.4 90.9 L324.6 91.6 L324.8 92.2 L325.0 92.9 L325.2 93.5 L325.4 94.2 L325.6 94.8 L325.8 95.5 L326.0 96.2 L326.2 96.8 L326.4 97.5 L326.6 98.2 L326.8 98.8 L327.0 99.5 L327.2 100.1 L327.4 100.8 L327.6 101.5 L327.8 102.1 L327.9 102.8 L328.1 103.5 L328.3 104.1 L328.5 104.8 L328.7 105.5 L328.9 106.1 L329.1 106.8 L329.2 107.5 L329.4 108.2 L329.6 108.8 L329.8 109.5 L330.0 110.2 L330.1 110.9 L330.3 111.5 L330.5 112.2 L330.7 112.9 L330.8 113.5 L331.0 114.2 L331.2 114.9 L331.3 115.6 L331.5 116.3 L331.7 116.9 L331.9 117.6 L332.0 118.3 L332.2 119.0 L332.4 119.6 L332.5 120.3 L332.7 121.0 L332.9 121.7 L333.0 122.4 L333.2 123.1 L333.4 123.7 L333.5 124.4 L333.7 125.1 L333.8 125.8 L334.0 126.5 L334.2 127.1 L334.3 127.8 L334.5 128.5 L334.6 129.2 L334.8 129.9 L335.0 130.6 L335.1 131.3 L335.3 131.9 L335.4 132.6 L335.6 133.3 L335.8 134.0 L335.9 134.7 L336.1 135.4 L336.2 136.0 L336.4 136.7 L336.5 137.4 L336.7 138.1 L336.8 138.8 L337.0 139.5 L337.2 140.2 L337.3 140.9 L337.5 141.5 L337.6 142.2 L337.8 142.9 L337.9 143.6 L338.1 144.3 L338.2 145.0 L338.4 145.7 L338.5 146.4 L338.7 147.0 L338.8 147.7 L339.0 148.4 L339.1 149.1 L339.3 149.8 L339.4 150.5 L339.6 151.2 L339.7 151.9 L339.9 152.5 L340.0 153.2 L340.2 153.9 L340.3 154.6 L340.5 155.3 L340.6 156.0 L340.8 156.7 L340.9 157.4 L341.1 158.0 L341.2 158.7 L341.4 159.4 L341.5 160.1 L341.7 160.8 L341.8 161.5 L342.0 162.2 L342.1 162.9 L342.3 163.5 L342.4 164.2 L342.6 164.9 L342.7 165.6 L342.9 166.3 L343.0 167.0 L343.2 167.6 L343.3 168.3 L343.5 169.0 L343.6 169.7 L343.8 170.4 L343.9 171.1 L344.1 171.7 L344.2 172.4 L344.4 173.1 L344.5 173.8 L344.7 174.5 L344.9 175.2 L345.0 175.8 L345.2 176.5 L345.3 177.2 L345.5 177.9 L345.6 178.6 L345.8 179.3 L345.9 179.9 L346.1 180.6 L346.2 181.3 L346.4 182.0 L346.5 182.7 L346.7 183.3 L346.8 184.0 L347.0 184.7 L347.1 185.4 L347.3 186.1 L347.5 186.7 L347.6 187.4 L347.8 188.1 L347.9 188.8 L348.1 189.5 L348.2 190.1 L348.4 190.8 L348.5 191.5 L348.7 192.2 L348.8 192.9 L349.0 193.5 L349.1 194.2 L349.3 194.9 L349.4 195.6 L349.6 196.3 L349.8 196.9 L349.9 197.6 L350.1 198.3 L350.2 199.0 L350.4 199.7 L350.5 200.3 L350.7 201.0 L350.8 201.7 L351.0 202.4 L351.1 203.0 L351.3 203.7 L351.4 204.4 L351.6 205.1 L351.7 205.8 L351.9 206.4 L352.1 207.1 L352.2 207.8 L352.4 208.5 L352.5 209.2 L352.7 209.8 L352.8 210.5 L353.0 211.2 L353.1 211.9 L353.3 212.6 L353.4 213.2 L353.6 213.9 L353.7 214.6 L353.9 215.3 L354.0 216.0 L354.2 216.6 L354.3 217.3 L354.5 218.0 L354.6 218.7 L354.8 219.4 L354.9 220.0 L355.1 220.7 L355.3 221.4 L355.4 222.1 L355.6 222.8 L355.7 223.4 L355.9 224.1 L356.0 224.8 L356.2 225.5 L356.3 226.2 L356.5 226.8 L356.6 227.5 L356.8 228.2 L356.9 228.9 L357.1 229.6 L357.2 230.2 L357.4 230.9 L357.5 231.6 L357.7 232.3 L357.8 233.0 L358.0 233.7 L358.1 234.3 L358.2 235.0 L358.4 235.7 L358.5 236.4 L358.7 237.1 L358.8 237.8 L359.0 238.4 L359.1 239.1 L359.3 239.8 L359.4 240.5 L359.6 241.2 L359.7 241.9 L359.9 242.5 L360.0 243.2 L360.2 243.9 L360.3 244.6 L360.5 245.3 L360.6 246.0 L360.7 246.7 L360.9 247.3 L361.0 248.0 L361.2 248.7 L361.3 249.4 L361.5 250.1 L361.6 250.8 L361.8 251.5 L361.9 252.2 L362.0 252.8 L362.2 253.5 L362.3 254.2 L362.5 254.9 L362.6 255.6 L362.7 256.3 L362.9 257.0 L363.0 257.7 L363.2 258.4 L363.3 259.1 L363.5 259.7 L363.6 260.4 L363.7 261.1 L363.9 261.8 L364.0 262.5 L364.1 263.2 L364.3 263.9 L364.4 264.6 L364.6 265.3 L364.7 266.0 L364.8 266.7 L365.0 267.4 L365.1 268.1 L365.3 268.8 L365.4 269.4 L365.6 270.1 L365.7 270.8 L365.9 271.5 L366.0 272.2 L366.2 272.9 L366.3 273.6 L366.5 274.3 L366.6 275.0 L366.8 275.6 L366.9 276.3 L367.1 277.0 L367.3 277.7 L367.4 278.4 L367.6 279.1 L367.8 279.8 L367.9 280.4 L368.1 281.1 L368.3 281.8 L368.5 282.5 L368.6 283.1 L368.8 283.8 L369.0 284.5 L369.2 285.2 L369.4 285.8 L369.6 286.5 L369.8 287.2 L370.0 287.8 L370.2 288.5 L370.4 289.1 L370.6 289.8 L370.9 290.5 L371.1 291.1 L371.3 291.8 L371.5 292.4 L371.8 293.1 L372.0 293.7 L372.3 294.4 L372.5 295.0 L372.8 295.6 L373.0 296.3 L373.3 296.9 L373.6 297.5 L373.9 298.2 L374.1 298.8 L374.4 299.4 L374.7 300.0 L375.0 300.7 L375.3 301.3 L375.6 301.9 L375.9 302.5 L376.3 303.1 L376.6 303.7 L376.9 304.3 L377.3 304.9 L377.6 305.5 L378.0 306.1 L378.3 306.7 L378.7 307.3 L379.0 307.9 L379.4 308.4 L379.8 309.0 L380.2 309.6 L380.6 310.2 L381.0 310.7 L381.4 311.3 L381.8 311.8 L382.3 312.4 L382.7 312.9 L383.2 313.0" fill="none" stroke="#28dc28" stroke-width="2" stroke-linejoin="round"/>
<path d="M100.5 303.7 L101.3 303.5 L102.0 303.4 L102.8 303.3 L103.5 303.1 L104.2 303.0 L105.0 302.8 L105.7 302.6 L106.4 302.5 L107.2 302.3 L107.9 302.1 L108.6 301.9 L109.3 301.7 L110.0 301.5 L110.7 301.3 L111.4 301.1 L112.1 300.9 L112.8 300.7 L113.5 300.5 L114.2 300.3 L114.9 300.0 L115.6 299.8 L116.2 299.6 L116.9 299.3 L117.6 299.1 L118.2 298.8 L118.9 298.6 L119.6 298.3 L120.2 298.0 L120.9 297.8 L121.5 297.5 L122.2 297.2 L122.8 296.9 L123.4 296.6 L124.1 296.3 L124.7 296.0 L125.3 295.7 L126.0 295.4 L126.6 295.1 L127.2 294.8 L127.8 294.5 L128.4 294.1 L129.0 293.8 L129.6 293.5 L130.3 293.1 L130.9 292.8 L131.4 292.4 L132.0 292.1 L132.6 291.7 L133.2 291.4 L133.8 291.0 L134.4 290.6 L135.0 290.3 L135.5 289.9 L136.1 289.5 L136.7 289.1 L137.2 288.8 L137.8 288.4 L138.4 288.0 L138.9 287.6 L139.5 287.2 L140.0 286.8 L140.6 286.4 L141.1 285.9 L141.7 285.5 L142.2 285.1 L142.8 284.7 L143.3 284.3 L143.8 283.8 L144.3 283.4 L144.9 283.0 L145.4 282.5 L145.9 282.1 L146.4 281.6 L146.9 281.2 L147.5 280.7 L148.0 280.3 L148.5 279.8 L149.0 279.3 L149.5 278.9 L150.0 278.4 L150.5 277.9 L151.0 277.4 L151.5 277.0 L152.0 276.5 L152.4 276.0 L152.9 275.5 L153.4 275.0 L153.9 274.5 L154.4 274.0 L154.8 273.5 L155.3 273.0 L155.8 272.5 L156.2 272.0 L156.7 271.5 L157.2 271.0 L157.6 270.5 L158.1 270.0 L158.5 269.4 L159.0 268.9 L159.5 268.4 L159.9 267.9 L160.3 267.3 L160.8 266.8 L161.2 266.3 L161.7 265.7 L162.1 265.2 L162.5 264.6 L163.0 264.1 L163.4 263.6 L163.8 263.0 L164.3 262.5 L164.7 261.9 L165.1 261.3 L165.5 260.8 L165.9 260.2 L166.4 259.7 L166.8 259.1 L167.2 258.5 L167.6 258.0 L168.0 257.4 L168.4 256.8 L168.8 256.3 L169.2 255.7 L169.6 255.1 L170.0 254.5 L170.4 253.9 L170.8 253.4 L171.2 252.8 L171.6 252.2 L172.0 251.6 L172.4 251.0 L172.7 250.4 L173.1 249.8 L173.5 249.2 L173.9 248.7 L174.3 248.1 L174.6 247.5 L175.0 246.9 L175.4 246.3 L175.8 245.7 L176.1 245.1 L176.5 244.5 L176.9 243.8 L177.2 243.2 L177.6 242.6 L178.0 242.0 L178.3 241.4 L178.7 240.8 L179.0 240.2 L179.4 239.6 L179.7 239.0 L180.1 238.4 L180.4 237.7 L180.8 237.1 L181.1 236.5 L181.5 235.9 L181.8 235.3 L182.2 234.6 L182.5 234.0 L182.8 233.4 L183.2 232.8 L183.5 232.2 L183.9 231.5 L184.2 230.9 L184.5 230.3 L184.9 229.7 L185.2 229.0 L185.5 228.4 L185.9 227.8 L186.2 227.2 L186.5 226.5 L186.8 225.9 L187.2 225.3 L187.5 224.7 L187.8 224.0 L188.1 223.4 L188.4 222.8 L188.8 222.1 L189.1 221.5 L189.4 220.9 L189.7 220.3 L190.0 219.6 L190.3 219.0 L190.7 218.4 L191.0 217.7 L191.3 217.1 L191.6 216.5 L191.9 215.9 L192.2 215.2 L192.5 214.6 L192.8 214.0 L193.1 213.3 L193.4 212.7 L193.7 212.1 L194.0 211.4 L194.3 210.8 L194.6 210.2 L194.9 209.6 L195.2 208.9 L195.5 208.3 L195.8 207.7 L196.1 207.0 L196.4 206.4 L196.7 205.8 L197.0 205.2 L197.3 204.5 L197.6 203.9 L197.9 203.3 L198.2 202.6 L198.5 202.0 L198.8 201.4 L199.1 200.8 L199.4 200.1 L199.7 199.5 L200.0 198.9 L200.3 198.2 L200.6 197.6 L200.9 197.0 L201.2 196.4 L201.5 195.7 L201.8 195.1 L202.1 194.5 L202.3 193.9 L202.6 193.2 L202.9 192.6 L203.2 192.0 L203.5 191.4 L203.8 190.8 L204.1 190.1 L204.4 189.5 L204.7 188.9 L205.0 188.3 L205.3 187.7 L205.6 187.0 L205.9 186.4 L206.2 185.8 L206.5 185.2 L206.8 184.6 L207.1 183.9 L207.4 183.3 L207.6 182.7 L207.9 182.1 L208.2 181.5 L208.5 180.9 L208.8 180.2 L209.1 179.6 L209.4 179.0 L209.7 178.4 L210.0 177.8 L210.3 177.2 L210.6 176.6 L211.0 176.0 L211.3 175.4 L211.6 174.7 L211.9 174.1 L212.2 173.5 L212.5 172.9 L212.8 172.3 L213.1 171.7 L213.4 171.1 L213.8 170.4 L214.1 169.8 L214.4 169.2 L214.7 168.6 L215.0 168.0 L215.4 167.4 L215.7 166.7 L216.0 166.1 L216.4 165.5 L216.7 164.9 L217.1 164.2 L217.4 163.6 L217.7 163.0 L218.1 162.3 L218.5 161.7 L218.8 161.0 L219.2 160.4 L219.5 159.8 L219.9 159.1 L220.3 158.5 L220.7 157.8 L221.0 157.2 L221.4 156.5 L221.8 155.8 L222.2 155.2 L222.6 154.5 L223.0 153.9 L223.4 153.3 L223.8 152.6 L224.3 152.0 L224.7 151.4 L225.1 150.8 L225.6 150.2 L226.0 149.6 L226.5 149.0 L226.9 148.5 L227.4 147.9 L227.9 147.4 L228.4 146.9 L228.9 146.4 L229.4 145.9 L229.9 145.5 L230.4 145.1 L231.0 144.7 L231.5 144.3 L232.1 143.9 L232.6 143.6 L233.2 143.3 L233.8 143.1 L234.4 142.8 L235.0 142.6 L235.6 142.5 L236.3 142.3 L236.9 142.2 L237.5 142.1 L238.2 142.1 L238.8 142.1 L239.5 142.1 L240.2 142.2 L240.8 142.2 L241.5 142.3 L242.1 142.5 L242.8 142.7 L243.4 142.9 L244.1 143.1 L244.7 143.3 L245.3 143.6 L245.9 143.9 L246.5 144.3 L247.1 144.6 L247.7 145.0 L248.3 145.4 L248.8 145.8 L249.4 146.3 L249.9 146.7 L250.4 147.2 L250.9 147.6 L251.4 148.1 L251.9 148.6 L252.3 149.2 L252.8 149.7 L253.2 150.2 L253.7 150.8 L254.1 151.4 L254.5 151.9 L254.9 152.5 L255.3 153.1 L255.7 153.7 L256.1 154.3 L256.5 154.9 L256.9 155.5 L257.2 156.2 L257.6 156.8 L258.0 157.4 L258.3 158.1 L258.6 158.7 L259.0 159.3 L259.3 160.0 L259.7 160.6 L260.0 161.3 L260.3 161.9 L260.6 162.6 L260.9 163.2 L261.3 163.9 L261.6 164.5 L261.9 165.2 L262.2 165.8 L262.5 166.5 L262.8 167.1 L263.1 167.8 L263.4 168.4 L263.7 169.1 L264.0 169.7 L264.3 170.4 L264.6 171.0 L264.9 171.7 L265.1 172.3 L265.4 173.0 L265.7 173.6 L266.0 174.3 L266.2 174.9 L266.5 175.6 L266.8 176.2 L267.1 176.9 L267.3 177.5 L267.6 178.2 L267.8 178.9 L268.1 179.5 L268.4 180.2 L268.6 180.8 L268.9 181.5 L269.1 182.1 L269.4 182.8 L269.6 183.4 L269.9 184.1 L270.1 184.7 L270.4 185.4 L270.6 186.1 L270.8 186.7 L271.1 187.4 L271.3 188.0 L271.6 188.7 L271.8 189.3 L272.0 190.0 L272.3 190.6 L272.5 191.3 L272.7 192.0 L272.9 192.6 L273.2 193.3 L273.4 193.9 L273.6 194.6 L273.8 195.2 L274.1 195.9 L274.3 196.6 L274.5 197.2 L274.7 197.9 L274.9 198.5 L275.2 199.2 L275.4 199.8 L275.6 200.5 L275.8 201.2 L276.0 201.8 L276.2 202.5 L276.5 203.1 L276.7 203.8 L276.9 204.5 L277.1 205.1 L277.3 205.8 L277.5 206.4 L277.7 207.1 L277.9 207.8 L278.2 208.4 L278.4 209.1 L278.6 209.7 L278.8 210.4 L279.0 211.0 L279.2 211.7 L279.4 212.4 L279.6 213.0 L279.8 213.7 L280.0 214.3 L280.3 215.0 L280.5 215.7 L280.7 216.3 L280.9 217.0 L281.1 217.6 L281.3 218.3 L281.5 219.0 L281.7 219.6 L281.9 220.3 L282.1 220.9 L282.4 221.6 L282.6 222.3 L282.8 222.9 L283.0 223.6 L283.2 224.2 L283.4 224.9 L283.6 225.5 L283.9 226.2 L284.1 226.9 L284.3 227.5 L284.5 228.2 L284.7 228.8 L285.0 229.5 L285.2 230.2 L285.4 230.8 L285.6 231.5 L285.8 232.1 L286.1 232.8 L286.3 233.5 L286.5 234.1 L286.7 234.8 L287.0 235.4 L287.2 236.1 L287.4 236.7 L287.7 237.4 L287.9 238.1 L288.1 238.7 L288.3 239.4 L288.6 240.0 L288.8 240.7 L289.0 241.4 L289.3 242.0 L289.5 242.7 L289.7 243.3 L290.0 244.0 L290.2 244.7 L290.4 245.3 L290.6 246.0 L290.9 246.6 L291.1 247.3 L291.3 248.0 L291.6 248.6 L291.8 249.3 L292.0 249.9 L292.3 250.6 L292.5 251.3 L292.7 251.9 L293.0 252.6 L293.2 253.2 L293.4 253.9 L293.7 254.6 L293.9 255.2 L294.1 255.9 L294.4 256.6 L294.6 257.2 L294.8 257.9 L295.1 258.5 L295.3 259.2 L295.5 259.9 L295.8 260.5 L296.0 261.2 L296.2 261.9 L296.5 262.5 L296.7 263.2 L296.9 263.9 L297.2 264.5 L297.4 265.2 L297.6 265.9 L297.9 266.5 L298.1 267.2 L298.3 267.9 L298.5 268.5 L298.8 269.2 L299.0 269.9 L299.2 270.5 L299.4 271.2 L299.7 271.9 L299.9 272.5 L300.1 273.2 L300.3 273.9 L300.6 274.6 L300.8 275.2 L301.0 275.9 L301.2 276.6 L301.5 277.2 L301.7 277.9 L301.9 278.6 L302.1 279.3 L302.3 279.9 L302.5 280.6 L302.8 281.3 L303.0 282.0 L303.2 282.6 L303.4 283.3 L303.6 284.0 L303.8 284.6 L304.1 285.3 L304.3 286.0 L304.5 286.7 L304.7 287.3 L305.0 288.0 L305.2 288.6 L305.4 289.3 L305.7 290.0 L305.9 290.6 L306.2 291.3 L306.4 291.9 L306.7 292.6 L306.9 293.2 L307.2 293.8 L307.5 294.5 L307.8 295.1 L308.0 295.7 L308.3 296.4 L308.6 297.0 L308.9 297.6 L309.2 298.2 L309.6 298.8 L309.9 299.4 L310.2 300.0 L310.6 300.6 L310.9 301.2 L311.3 301.7 L311.6 302.3 L312.0 302.9 L312.4 303.4 L312.8 304.0 L313.2 304.5 L313.6 305.1 L314.0 305.6 L314.5 306.1 L314.9 306.6 L315.4 307.1 L315.8 307.6 L316.3 308.1 L316.8 308.6 L317.3 309.1 L317.8 309.6 L318.4 310.0 L318.9 310.5 L319.5 310.9 L320.0 311.3 L320.6 311.8 L321.2 312.2 L321.8 312.6 L322.5 313.0 L323.1 313.0" fill="none" stroke="#1e1ec8" stroke-width="2" stroke-linejoin="round"/>
<path d="M101.4 296.6 L102.2 296.4 L102.9 296.2 L103.6 296.0 L104.2 295.7 L104.9 295.4 L105.5 295.0 L106.1 294.7 L106.7 294.3 L107.2 293.9 L107.8 293.5 L108.3 293.1 L108.9 292.6 L109.4 292.2 L109.9 291.7 L110.4 291.3 L110.9 290.8 L111.4 290.3 L111.9 289.9 L112.5 289.4 L113.0 288.9 L113.5 288.5 L114.0 288.0 L114.5 287.6 L115.1 287.2 L115.7 286.8 L116.2 286.4 L116.8 286.0 L117.4 285.6 L118.0 285.2 L118.6 284.8 L119.2 284.5 L119.8 284.1 L120.4 283.8 L121.1 283.4 L121.7 283.1 L122.3 282.8 L122.9 282.4 L123.5 282.1 L124.1 281.7 L124.8 281.3 L125.4 281.0 L126.0 280.6 L126.5 280.2 L127.1 279.8 L127.7 279.4 L128.3 279.0 L128.8 278.6 L129.4 278.2 L129.9 277.8 L130.5 277.3 L131.0 276.9 L131.6 276.5 L132.1 276.0 L132.6 275.5 L133.1 275.1 L133.6 274.6 L134.1 274.1 L134.6 273.6 L135.1 273.1 L135.6 272.7 L136.1 272.2 L136.6 271.6 L137.0 271.1 L137.5 270.6 L138.0 270.1 L138.4 269.6 L138.9 269.1 L139.3 268.5 L139.8 268.0 L140.2 267.4 L140.7 266.9 L141.1 266.4 L141.6 265.8 L142.0 265.3 L142.4 264.7 L142.8 264.2 L143.3 263.6 L143.7 263.0 L144.1 262.5 L144.5 261.9 L144.9 261.3 L145.3 260.8 L145.8 260.2 L146.2 259.6 L146.6 259.1 L147.0 258.5 L147.4 257.9 L147.8 257.4 L148.2 256.8 L148.6 256.2 L149.0 255.6 L149.4 255.1 L149.8 254.5 L150.2 253.9 L150.6 253.3 L150.9 252.7 L151.3 252.2 L151.7 251.6 L152.1 251.0 L152.5 250.4 L152.9 249.8 L153.3 249.3 L153.6 248.7 L154.0 248.1 L154.4 247.5 L154.8 246.9 L155.2 246.3 L155.5 245.8 L155.9 245.2 L156.3 244.6 L156.7 244.0 L157.0 243.4 L157.4 242.8 L157.8 242.2 L158.1 241.6 L158.5 241.1 L158.9 240.5 L159.2 239.9 L159.6 239.3 L160.0 238.7 L160.3 238.1 L160.7 237.5 L161.1 236.9 L161.4 236.3 L161.8 235.7 L162.2 235.1 L162.5 234.5 L162.9 233.9 L163.3 233.3 L163.6 232.7 L164.0 232.1 L164.3 231.6 L164.7 231.0 L165.1 230.4 L165.4 229.8 L165.8 229.2 L166.2 228.6 L166.5 228.0 L166.9 227.4 L167.2 226.8 L167.6 226.2 L168.0 225.6 L168.3 225.0 L168.7 224.4 L169.0 223.8 L169.4 223.2 L169.8 222.6 L170.1 222.0 L170.5 221.4 L170.8 220.8 L171.2 220.2 L171.6 219.6 L171.9 219.0 L172.3 218.4 L172.7 217.8 L173.0 217.2 L173.4 216.6 L173.8 216.0 L174.1 215.4 L174.5 214.8 L174.9 214.2 L175.2 213.6 L175.6 213.0 L176.0 212.4 L176.4 211.8 L176.7 211.2 L177.1 210.6 L177.5 210.0 L177.9 209.5 L178.3 208.9 L178.7 208.3 L179.0 207.7 L179.4 207.1 L179.8 206.6 L180.2 206.0 L180.6 205.4 L181.0 204.8 L181.4 204.3 L181.8 203.7 L182.2 203.2 L182.6 202.6 L183.0 202.0 L183.5 201.5 L183.9 200.9 L184.3 200.4 L184.7 199.8 L185.1 199.3 L185.6 198.8 L186.0 198.2 L186.4 197.7 L186.9 197.2 L187.3 196.6 L187.8 196.1 L188.2 195.6 L188.7 195.1 L189.1 194.6 L189.6 194.1 L190.1 193.6 L190.6 193.1 L191.1 192.6 L191.6 192.2 L192.1 191.7 L192.6 191.2 L193.1 190.8 L193.7 190.3 L194.2 189.9 L194.8 189.5 L195.3 189.1 L195.9 188.7 L196.5 188.3 L197.1 187.9 L197.7 187.5 L198.4 187.1 L199.0 186.8 L199.6 186.5 L200.3 186.2 L201.0 185.9 L201.6 185.6 L202.3 185.4 L203.0 185.2 L203.6 185.0 L204.3 184.9 L205.0 184.7 L205.7 184.6 L206.4 184.6 L207.1 184.6 L207.8 184.6 L208.4 184.6 L209.1 184.7 L209.8 184.8 L210.5 184.9 L211.2 185.1 L211.8 185.3 L212.5 185.5 L213.1 185.7 L213.8 186.0 L214.4 186.3 L215.1 186.6 L215.7 186.9 L216.3 187.3 L216.9 187.7 L217.5 188.1 L218.1 188.5 L218.7 188.9 L219.2 189.4 L219.8 189.8 L220.3 190.3 L220.8 190.8 L221.3 191.3 L221.8 191.8 L222.2 192.3 L222.7 192.8 L223.1 193.4 L223.6 193.9 L224.0 194.5 L224.4 195.1 L224.8 195.6 L225.2 196.2 L225.5 196.8 L225.9 197.4 L226.3 198.0 L226.6 198.6 L226.9 199.2 L227.3 199.8 L227.6 200.5 L227.9 201.1 L228.2 201.7 L228.6 202.4 L228.9 203.0 L229.2 203.6 L229.5 204.3 L229.8 204.9 L230.1 205.6 L230.4 206.2 L230.7 206.8 L231.0 207.5 L231.3 208.1 L231.6 208.8 L231.9 209.4 L232.2 210.0 L232.5 210.7 L232.8 211.3 L233.1 211.9 L233.4 212.6 L233.6 213.2 L233.9 213.8 L234.2 214.5 L234.5 215.1 L234.8 215.7 L235.1 216.4 L235.4 217.0 L235.7 217.6 L236.0 218.3 L236.3 218.9 L236.6 219.5 L236.9 220.1 L237.2 220.8 L237.5 221.4 L237.8 222.0 L238.1 222.6 L238.4 223.3 L238.7 223.9 L239.0 224.5 L239.3 225.2 L239.6 225.8 L239.8 226.4 L240.1 227.0 L240.4 227.7 L240.7 228.3 L241.0 228.9 L241.3 229.5 L241.6 230.2 L241.9 230.8 L242.2 231.4 L242.5 232.0 L242.7 232.7 L243.0 233.3 L243.3 233.9 L243.6 234.6 L243.9 235.2 L244.2 235.8 L244.5 236.4 L244.7 237.1 L245.0 237.7 L245.3 238.3 L245.6 239.0 L245.9 239.6 L246.2 240.2 L246.4 240.9 L246.7 241.5 L247.0 242.1 L247.3 242.8 L247.6 243.4 L247.8 244.0 L248.1 244.7 L248.4 245.3 L248.7 246.0 L248.9 246.6 L249.2 247.2 L249.5 247.9 L249.8 248.5 L250.0 249.2 L250.3 249.8 L250.6 250.5 L250.8 251.1 L251.1 251.8 L251.4 252.4 L251.6 253.1 L251.9 253.7 L252.2 254.4 L252.4 255.0 L252.7 255.7 L253.0 256.4 L253.2 257.0 L253.5 257.7 L253.7 258.3 L254.0 259.0 L254.2 259.7 L254.5 260.3 L254.8 261.0 L255.0 261.7 L255.3 262.3 L255.5 263.0 L255.8 263.7 L256.1 264.3 L256.3 265.0 L256.6 265.7 L256.8 266.3 L257.1 267.0 L257.4 267.7 L257.6 268.3 L257.9 269.0 L258.2 269.6 L258.4 270.3 L258.7 271.0 L259.0 271.6 L259.3 272.3 L259.5 272.9 L259.8 273.6 L260.1 274.3 L260.4 274.9 L260.6 275.6 L260.9 276.2 L261.2 276.9 L261.5 277.5 L261.8 278.2 L262.1 278.8 L262.4 279.4 L262.7 280.1 L263.0 280.7 L263.3 281.4 L263.6 282.0 L263.9 282.6 L264.2 283.2 L264.5 283.9 L264.9 284.5 L265.2 285.1 L265.5 285.7 L265.9 286.3 L266.2 286.9 L266.5 287.5 L266.9 288.1 L267.2 288.7 L267.6 289.3 L267.9 289.9 L268.3 290.5 L268.7 291.1 L269.0 291.7 L269.4 292.3 L269.8 292.8 L270.2 293.4 L270.6 294.0 L271.0 294.5 L271.4 295.1 L271.8 295.6 L272.2 296.2 L272.6 296.7 L273.0 297.2 L273.4 297.8 L273.9 298.3 L274.3 298.8 L274.8 299.3 L275.2 299.8 L275.7 300.3 L276.1 300.8 L276.6 301.3 L277.1 301.8 L277.6 302.3 L278.0 302.7 L278.5 303.2 L279.0 303.7 L279.6 304.1 L280.1 304.6 L280.6 305.0 L281.1 305.5 L281.7 305.9 L282.2 306.3 L282.8 306.7 L283.3 307.1 L283.9 307.5 L284.5 307.9 L285.1 308.3 L285.7 308.7 L286.3 309.1 L286.9 309.4 L287.5 309.8 L288.1 310.1 L288.7 310.5 L289.4 310.8 L290.0 311.1 L290.7 311.4 L291.4 311.8 L292.0 312.1 L292.7 312.3 L293.4 312.6 L294.1 312.9 L294.9 313.0" fill="none" stroke="#28dcdc" stroke-width="2" stroke-linejoin="round"/>
<path d="M110.6 280.9 L111.1 280.5 L111.6 280.0 L112.1 279.5 L112.5 279.0 L113.0 278.5 L113.5 278.1 L114.0 277.6 L114.5 277.1 L115.0 276.6 L115.5 276.1 L116.0 275.6 L116.5 275.1 L116.9 274.6 L117.4 274.2 L117.9 273.7 L118.4 273.2 L118.9 272.7 L119.4 272.2 L119.9 271.7 L120.4 271.2 L120.9 270.7 L121.4 270.2 L121.9 269.7 L122.4 269.2 L122.9 268.7 L123.4 268.2 L123.9 267.6 L124.4 267.1 L124.9 266.6 L125.3 266.1 L125.8 265.6 L126.3 265.1 L126.8 264.6 L127.3 264.1 L127.8 263.6 L128.3 263.0 L128.8 262.5 L129.3 262.0 L129.7 261.5 L130.2 261.0 L130.7 260.5 L131.2 260.0 L131.7 259.4 L132.2 258.9 L132.6 258.4 L133.1 257.9 L133.6 257.4 L134.1 256.9 L134.5 256.3 L135.0 255.8 L135.5 255.3 L135.9 254.8 L136.4 254.3 L136.9 253.7 L137.3 253.2 L137.8 252.7 L138.3 252.2 L138.7 251.7 L139.2 251.1 L139.6 250.6 L140.1 250.1 L140.5 249.6 L141.0 249.1 L141.4 248.5 L141.8 248.0 L142.3 247.5 L142.7 247.0 L143.2 246.5 L143.6 246.0 L144.0 245.4 L144.5 244.9 L144.9 244.4 L145.3 243.9 L145.8 243.4 L146.2 242.9 L146.6 242.4 L147.1 241.9 L147.5 241.4 L148.0 240.9 L148.4 240.4 L148.9 239.9 L149.3 239.4 L149.8 238.9 L150.3 238.4 L150.7 237.9 L151.2 237.4 L151.7 236.9 L152.1 236.4 L152.6 236.0 L153.1 235.5 L153.6 235.0 L154.1 234.5 L154.6 234.1 L155.1 233.6 L155.7 233.2 L156.2 232.7 L156.7 232.2 L157.3 231.8 L157.8 231.4 L158.4 230.9 L158.9 230.5 L159.5 230.1 L160.1 229.6 L160.7 229.2 L161.3 228.8 L161.8 228.4 L162.5 228.0 L163.1 227.6 L163.7 227.3 L164.3 226.9 L164.9 226.5 L165.5 226.2 L166.2 225.9 L166.8 225.5 L167.5 225.2 L168.1 224.9 L168.8 224.7 L169.4 224.4 L170.1 224.2 L170.7 224.0 L171.4 223.8 L172.1 223.6 L172.7 223.5 L173.4 223.4 L174.0 223.3 L174.7 223.2 L175.4 223.2 L176.0 223.2 L176.7 223.3 L177.3 223.4 L178.0 223.5 L178.6 223.6 L179.2 223.8 L179.9 224.0 L180.5 224.2 L181.1 224.5 L181.7 224.7 L182.4 225.0 L183.0 225.3 L183.6 225.7 L184.2 226.0 L184.8 226.4 L185.4 226.8 L186.0 227.2 L186.6 227.6 L187.1 228.0 L187.7 228.4 L188.3 228.9 L188.8 229.3 L189.4 229.8 L189.9 230.3 L190.5 230.8 L191.0 231.2 L191.5 231.7 L192.0 232.2 L192.6 232.7 L193.1 233.2 L193.6 233.7 L194.1 234.2 L194.5 234.8 L195.0 235.3 L195.5 235.8 L196.0 236.3 L196.4 236.8 L196.9 237.4 L197.3 237.9 L197.8 238.4 L198.2 239.0 L198.7 239.5 L199.1 240.1 L199.5 240.6 L199.9 241.2 L200.4 241.7 L200.8 242.3 L201.2 242.9 L201.6 243.4 L202.0 244.0 L202.4 244.6 L202.8 245.1 L203.2 245.7 L203.5 246.3 L203.9 246.9 L204.3 247.4 L204.7 248.0 L205.0 248.6 L205.4 249.2 L205.8 249.8 L206.1 250.4 L206.5 250.9 L206.9 251.5 L207.2 252.1 L207.6 252.7 L207.9 253.3 L208.3 253.9 L208.6 254.5 L209.0 255.1 L209.3 255.7 L209.6 256.3 L210.0 256.9 L210.3 257.5 L210.7 258.1 L211.0 258.7 L211.3 259.3 L211.7 259.9 L212.0 260.5 L212.3 261.1 L212.7 261.7 L213.0 262.4 L213.4 263.0 L213.7 263.6 L214.0 264.2 L214.4 264.8 L214.7 265.4 L215.0 266.0 L215.4 266.6 L215.7 267.2 L216.0 267.8 L216.4 268.4 L216.7 269.0 L217.1 269.6 L217.4 270.2 L217.8 270.8 L218.1 271.4 L218.4 272.0 L218.8 272.6 L219.2 273.2 L219.5 273.8 L219.9 274.4 L220.2 275.0 L220.6 275.5 L221.0 276.1 L221.3 276.7 L221.7 277.3 L222.1 277.9 L222.4 278.5 L222.8 279.0 L223.2 279.6 L223.6 280.2 L224.0 280.8 L224.4 281.3 L224.8 281.9 L225.2 282.5 L225.6 283.0 L226.0 283.6 L226.4 284.2 L226.8 284.7 L227.3 285.3 L227.7 285.8 L228.1 286.4 L228.6 286.9 L229.0 287.4 L229.5 288.0 L229.9 288.5 L230.4 289.0 L230.8 289.6 L231.3 290.1 L231.8 290.6 L232.3 291.1 L232.7 291.6 L233.2 292.1 L233.7 292.6 L234.2 293.1 L234.7 293.6 L235.2 294.1 L235.7 294.6 L236.2 295.1 L236.8 295.6 L237.3 296.1 L237.8 296.5 L238.3 297.0 L238.9 297.5 L239.4 297.9 L240.0 298.4 L240.5 298.8 L241.0 299.3 L241.6 299.7 L242.2 300.1 L242.7 300.5 L243.3 301.0 L243.8 301.4 L244.4 301.8 L245.0 302.2 L245.6 302.6 L246.2 303.0 L246.7 303.4 L247.3 303.8 L247.9 304.1 L248.5 304.5 L249.1 304.9 L249.7 305.2 L250.3 305.6 L250.9 305.9 L251.5 306.3 L252.1 306.6 L252.8 306.9 L253.4 307.3 L254.0 307.6 L254.6 307.9 L255.2 308.2 L255.9 308.5 L256.5 308.8 L257.1 309.0 L257.8 309.3 L258.4 309.6 L259.1 309.8 L259.7 310.1 L260.4 310.3 L261.0 310.6 L261.7 310.8 L262.3 311.0 L263.0 311.2 L263.6 311.4 L264.3 311.6 L264.9 311.8 L265.6 312.0 L266.3 312.2 L266.9 312.3 L267.6 312.5 L268.3 312.6 L268.9 312.8 L269.6 312.9 L270.3 313.0" fill="none" stroke="#dc1edc" stroke-width="2" stroke-linejoin="round"/>
<path d="M115.8 268.3 L116.2 267.9 L116.6 267.4 L117.1 266.9 L117.5 266.5 L118.0 266.0 L118.5 265.5 L119.0 265.0 L119.4 264.6 L119.9 264.1 L120.4 263.6 L120.9 263.1 L121.5 262.6 L122.0 262.2 L122.5 261.7 L123.0 261.2 L123.6 260.8 L124.1 260.3 L124.7 259.8 L125.2 259.4 L125.8 258.9 L126.4 258.4 L126.9 258.0 L127.5 257.6 L128.1 257.1 L128.7 256.7 L129.3 256.3 L129.9 255.8 L130.5 255.4 L131.1 255.0 L131.7 254.6 L132.3 254.2 L132.9 253.8 L133.5 253.5 L134.1 253.1 L134.8 252.7 L135.4 252.4 L136.0 252.1 L136.6 251.7 L137.3 251.4 L137.9 251.1 L138.6 250.8 L139.2 250.5 L139.8 250.3 L140.5 250.0 L141.1 249.8 L141.8 249.6 L142.4 249.3 L143.1 249.1 L143.7 249.0 L144.4 248.8 L145.0 248.6 L145.7 248.5 L146.4 248.4 L147.0 248.3 L147.7 248.2 L148.3 248.1 L149.0 248.1 L149.6 248.0 L150.3 248.0 L150.9 248.0 L151.6 248.1 L152.2 248.1 L152.9 248.2 L153.5 248.2 L154.2 248.3 L154.8 248.5 L155.5 248.6 L156.1 248.8 L156.7 248.9 L157.4 249.1 L158.0 249.3 L158.6 249.5 L159.3 249.8 L159.9 250.0 L160.5 250.3 L161.1 250.6 L161.7 250.8 L162.3 251.2 L162.9 251.5 L163.5 251.8 L164.1 252.2 L164.7 252.5 L165.3 252.9 L165.9 253.3 L166.5 253.7 L167.1 254.1 L167.6 254.5 L168.2 254.9 L168.7 255.3 L169.3 255.8 L169.8 256.2 L170.4 256.7 L170.9 257.2 L171.4 257.6 L171.9 258.1 L172.4 258.6 L173.0 259.1 L173.5 259.6 L173.9 260.2 L174.4 260.7 L174.9 261.2 L175.4 261.7 L175.9 262.3 L176.3 262.8 L176.8 263.4 L177.3 263.9 L177.7 264.5 L178.2 265.0 L178.6 265.6 L179.1 266.2 L179.5 266.8 L179.9 267.3 L180.4 267.9 L180.8 268.5 L181.2 269.1 L181.7 269.7 L182.1 270.2 L182.5 270.8 L182.9 271.4 L183.3 272.0 L183.8 272.6 L184.2 273.2 L184.6 273.8 L185.0 274.3 L185.4 274.9 L185.8 275.5 L186.2 276.1 L186.6 276.7 L187.0 277.3 L187.4 277.9 L187.8 278.5 L188.2 279.0 L188.6 279.6 L189.0 280.2 L189.4 280.8 L189.8 281.4 L190.2 282.0 L190.6 282.5 L191.0 283.1 L191.4 283.7 L191.8 284.3 L192.2 284.8 L192.6 285.4 L193.0 286.0 L193.4 286.5 L193.8 287.1 L194.2 287.6 L194.6 288.2 L195.1 288.7 L195.5 289.3 L195.9 289.8 L196.3 290.4 L196.7 290.9 L197.2 291.4 L197.6 292.0 L198.0 292.5 L198.5 293.0 L198.9 293.6 L199.4 294.1 L199.8 294.6 L200.3 295.1 L200.7 295.6 L201.2 296.1 L201.6 296.6 L202.1 297.1 L202.6 297.5 L203.1 298.0 L203.6 298.5 L204.1 299.0 L204.5 299.4 L205.0 299.9 L205.6 300.3 L206.1 300.8 L206.6 301.2 L207.1 301.6 L207.6 302.1 L208.2 302.5 L208.7 302.9 L209.3 303.3 L209.8 303.7 L210.4 304.1 L211.0 304.5 L211.5 304.8 L212.1 305.2 L212.7 305.6 L213.3 305.9 L213.9 306.3 L214.5 306.6 L215.1 306.9 L215.7 307.3 L216.3 307.6 L217.0 307.9 L217.6 308.2 L218.2 308.5 L218.9 308.7 L219.5 309.0 L220.2 309.3 L220.8 309.5 L221.5 309.8 L222.1 310.0 L222.8 310.2 L223.5 310.5 L224.1 310.7 L224.8 310.9 L225.5 311.1 L226.2 311.2 L226.9 311.4 L227.6 311.6 L228.2 311.7 L228.9 311.9 L229.6 312.0 L230.3 312.1 L231.0 312.2 L231.8 312.3 L232.5 312.4 L233.2 312.5 L233.9 312.5 L234.6 312.6 L235.3 312.6 L236.0 312.7 L236.8 312.7 L237.5 312.7 L238.2 312.7" fill="none" stroke="#f0821e" stroke-width="2" stroke-linejoin="round"/>
<path d="M79.9 286.1 L80.6 285.8 L81.2 285.5 L81.9 285.2 L82.5 284.9 L83.1 284.6 L83.8 284.2 L84.4 283.9 L85.0 283.6 L85.7 283.3 L86.3 283.0 L86.9 282.7 L87.5 282.4 L88.2 282.1 L88.8 281.8 L89.4 281.5 L90.0 281.2 L90.7 280.9 L91.3 280.6 L91.9 280.4 L92.5 280.1 L93.2 279.8 L93.8 279.5 L94.4 279.2 L95.0 278.9 L95.7 278.6 L96.3 278.3 L96.9 278.0 L97.5 277.7 L98.1 277.4 L98.8 277.1 L99.4 276.8 L100.0 276.5 L100.6 276.2 L101.2 275.8 L101.9 275.5 L102.5 275.2 L103.1 274.9 L103.7 274.6 L104.3 274.3 L105.0 274.0 L105.6 273.7 L106.2 273.3 L106.8 273.0 L107.5 272.7 L108.1 272.4 L108.7 272.0 L109.3 271.7 L110.0 271.4 L110.6 271.0 L111.2 270.7 L111.8 270.3 L112.5 270.0 L113.1 269.6 L113.7 269.3 L114.4 268.9 L115.0 268.6 L115.6 268.3 L116.3 267.9 L116.9 267.6 L117.6 267.3 L118.2 267.0 L118.8 266.6 L119.5 266.3 L120.1 266.1 L120.8 265.8 L121.4 265.5 L122.1 265.2 L122.8 265.0 L123.4 264.7 L124.1 264.5 L124.8 264.3 L125.4 264.1 L126.1 263.9 L126.8 263.8 L127.4 263.6 L128.1 263.5 L128.8 263.4 L129.5 263.3 L130.2 263.2 L130.9 263.2 L131.5 263.1 L132.2 263.1 L132.9 263.1 L133.6 263.1 L134.3 263.1 L135.0 263.2 L135.7 263.2 L136.4 263.3 L137.0 263.3 L137.7 263.4 L138.4 263.5 L139.1 263.7 L139.8 263.8 L140.5 263.9 L141.1 264.1 L141.8 264.3 L142.5 264.5 L143.1 264.7 L143.8 264.9 L144.4 265.1 L145.1 265.4 L145.8 265.6 L146.4 265.9 L147.0 266.2 L147.7 266.5 L148.3 266.8 L148.9 267.1 L149.5 267.4 L150.1 267.8 L150.7 268.1 L151.3 268.5 L151.9 268.9 L152.5 269.2 L153.1 269.6 L153.7 270.0 L154.2 270.5 L154.8 270.9 L155.3 271.3 L155.8 271.8 L156.4 272.3 L156.9 272.7 L157.4 273.2 L157.9 273.7 L158.4 274.2 L158.9 274.7 L159.4 275.2 L159.9 275.7 L160.4 276.2 L160.8 276.7 L161.3 277.3 L161.8 277.8 L162.2 278.3 L162.7 278.9 L163.2 279.4 L163.6 279.9 L164.1 280.5 L164.6 281.0 L165.0 281.5 L165.5 282.1 L166.0 282.6 L166.4 283.2 L166.9 283.7 L167.3 284.3 L167.8 284.8 L168.2 285.3 L168.7 285.9 L169.2 286.4 L169.6 287.0 L170.1 287.5 L170.5 288.0 L171.0 288.6 L171.5 289.1 L171.9 289.6 L172.4 290.2 L172.9 290.7 L173.3 291.2 L173.8 291.7 L174.3 292.2 L174.7 292.8 L175.2 293.3 L175.7 293.8 L176.2 294.3 L176.7 294.8 L177.2 295.3 L177.7 295.8 L178.1 296.2 L178.6 296.7 L179.1 297.2 L179.7 297.6 L180.2 298.1 L180.7 298.6 L181.2 299.0 L181.7 299.4 L182.2 299.9 L182.8 300.3 L183.3 300.7 L183.9 301.1 L184.4 301.5 L184.9 301.9 L185.5 302.3 L186.1 302.7 L186.6 303.1 L187.2 303.4 L187.8 303.8 L188.4 304.1 L189.0 304.5 L189.6 304.8 L190.2 305.1 L190.8 305.4 L191.4 305.7 L192.0 306.0 L192.7 306.3 L193.3 306.5 L193.9 306.8 L194.6 307.0 L195.3 307.3 L195.9 307.5 L196.6 307.7 L197.2 307.9 L197.9 308.1 L198.6 308.3 L199.3 308.5 L200.0 308.7 L200.6 308.9 L201.3 309.1 L202.0 309.3 L202.7 309.4 L203.4 309.6 L204.1 309.7 L204.8 309.9 L205.5 310.0 L206.2 310.2 L206.9 310.3 L207.6 310.4 L208.3 310.6 L209.0 310.7 L209.7 310.8 L210.4 310.9 L211.1 311.1 L211.8 311.2 L212.5 311.3 L213.2 311.4 L213.9 311.5 L214.6 311.6 L215.3 311.8 L216.0 311.9 L216.6 312.0 L217.3 312.1 L218.0 312.2 L218.7 312.3 L219.3 312.5 L220.0 312.6 L220.6 312.7 L221.3 312.8 L221.9 313.0" fill="none" stroke="#7d7d19" stroke-width="2" stroke-linejoin="round"/>
<path d="M78.9 276.4 L79.6 276.4 L80.3 276.5 L81.0 276.5 L81.7 276.5 L82.4 276.5 L83.1 276.5 L83.8 276.5 L84.5 276.5 L85.2 276.5 L85.9 276.5 L86.6 276.5 L87.3 276.5 L88.0 276.5 L88.7 276.5 L89.4 276.5 L90.0 276.4 L90.7 276.4 L91.4 276.4 L92.1 276.4 L92.8 276.4 L93.5 276.4 L94.2 276.4 L94.9 276.4 L95.6 276.4 L96.3 276.4 L97.0 276.4 L97.7 276.5 L98.4 276.5 L99.1 276.5 L99.8 276.6 L100.5 276.6 L101.2 276.7 L101.9 276.7 L102.6 276.8 L103.2 276.9 L103.9 277.0 L104.6 277.1 L105.3 277.2 L106.0 277.3 L106.7 277.5 L107.4 277.6 L108.1 277.7 L108.7 277.9 L109.4 278.0 L110.1 278.2 L110.8 278.4 L111.5 278.6 L112.1 278.8 L112.8 279.0 L113.5 279.2 L114.1 279.4 L114.8 279.6 L115.5 279.8 L116.1 280.1 L116.8 280.3 L117.4 280.5 L118.1 280.8 L118.7 281.1 L119.3 281.3 L120.0 281.6 L120.6 281.9 L121.2 282.2 L121.9 282.5 L122.5 282.8 L123.1 283.1 L123.7 283.4 L124.4 283.7 L125.0 284.1 L125.6 284.4 L126.2 284.7 L126.8 285.1 L127.4 285.4 L128.0 285.8 L128.6 286.1 L129.2 286.5 L129.7 286.8 L130.3 287.2 L130.9 287.6 L131.5 287.9 L132.1 288.3 L132.7 288.7 L133.3 289.0 L133.9 289.4 L134.4 289.8 L135.0 290.1 L135.6 290.5 L136.2 290.8 L136.8 291.2 L137.4 291.6 L138.0 291.9 L138.6 292.3 L139.2 292.6 L139.8 293.0 L140.4 293.4 L141.0 293.7 L141.5 294.1 L142.1 294.5 L142.7 294.9 L143.3 295.2 L143.9 295.6 L144.5 296.0 L145.1 296.4 L145.6 296.8 L146.2 297.2 L146.8 297.6 L147.4 298.0 L148.0 298.4 L148.6 298.7 L149.1 299.1 L149.7 299.5 L150.3 299.9 L150.9 300.3 L151.5 300.7 L152.1 301.1 L152.6 301.5 L153.2 301.8 L153.8 302.2 L154.4 302.6 L155.0 303.0 L155.6 303.3 L156.2 303.7 L156.8 304.0 L157.4 304.4 L158.0 304.7 L158.6 305.1 L159.2 305.4 L159.8 305.8 L160.4 306.1 L161.1 306.4 L161.7 306.7 L162.3 307.0 L162.9 307.3 L163.6 307.6 L164.2 307.9 L164.8 308.1 L165.5 308.4 L166.1 308.6 L166.8 308.9 L167.4 309.1 L168.1 309.3 L168.7 309.5 L169.4 309.7 L170.0 309.9 L170.7 310.1 L171.4 310.3 L172.0 310.5 L172.7 310.7 L173.4 310.8 L174.1 311.0 L174.8 311.1 L175.4 311.3 L176.1 311.4 L176.8 311.5 L177.5 311.6 L178.2 311.8 L178.9 311.9 L179.6 312.0 L180.3 312.1 L181.0 312.2 L181.6 312.2 L182.3 312.3 L183.0 312.4 L183.7 312.5 L184.4 312.5 L185.1 312.6 L185.8 312.7 L186.5 312.7 L187.2 312.8 L187.9 312.8 L188.6 312.8 L189.3 312.9 L190.0 312.9" fill="none" stroke="#1e1e78" stroke-width="2" stroke-linejoin="round"/>
<path d="M183.0 313.0 H350.0" stroke="#1e1e78" stroke-width="2"/>
<path d="M350.0 313.0 H400.0" stroke="#f0821e" stroke-width="2"/>
<path d="M400.0 313.0 H405.0" stroke="#1e1ec8" stroke-width="2"/>
<path d="M405.0 313.0 H430.0" stroke="#28dc28" stroke-width="2"/>
<path d="M430.0 313.0 H432.5" stroke="#dc1e1e" stroke-width="2"/>
<path d="M77.30 313.00 V306.50 M77.30 0.40 V7.40 M98.62 313.00 V309.50 M98.62 0.40 V4.60 M111.10 313.00 V309.50 M111.10 0.40 V4.60 M119.95 313.00 V309.50 M119.95 0.40 V4.60 M126.81 313.00 V309.50 M126.81 0.40 V4.60 M132.42 313.00 V309.50 M132.42 0.40 V4.60 M137.16 313.00 V309.50 M137.16 0.40 V4.60 M141.27 313.00 V309.50 M141.27 0.40 V4.60 M144.89 313.00 V309.50 M144.89 0.40 V4.60 M148.13 313.00 V306.50 M148.13 0.40 V7.40 M169.46 313.00 V309.50 M169.46 0.40 V4.60 M181.93 313.00 V309.50 M181.93 0.40 V4.60 M190.78 313.00 V309.50 M190.78 0.40 V4.60 M197.64 313.00 V309.50 M197.64 0.40 V4.60 M203.25 313.00 V309.50 M203.25 0.40 V4.60 M207.99 313.00 V309.50 M207.99 0.40 V4.60 M212.10 313.00 V309.50 M212.10 0.40 V4.60 M215.73 313.00 V309.50 M215.73 0.40 V4.60 M218.97 313.00 V306.50 M218.97 0.40 V7.40 M240.29 313.00 V309.50 M240.29 0.40 V4.60 M252.76 313.00 V309.50 M252.76 0.40 V4.60 M261.61 313.00 V309.50 M261.61 0.40 V4.60 M268.48 313.00 V309.50 M268.48 0.40 V4.60 M274.09 313.00 V309.50 M274.09 0.40 V4.60 M278.83 313.00 V309.50 M278.83 0.40 V4.60 M282.94 313.00 V309.50 M282.94 0.40 V4.60 M286.56 313.00 V309.50 M286.56 0.40 V4.60 M289.80 313.00 V306.50 M289.80 0.40 V7.40 M311.12 313.00 V309.50 M311.12 0.40 V4.60 M323.60 313.00 V309.50 M323.60 0.40 V4.60 M332.45 313.00 V309.50 M332.45 0.40 V4.60 M339.31 313.00 V309.50 M339.31 0.40 V4.60 M344.92 313.00 V309.50 M344.92 0.40 V4.60 M349.66 313.00 V309.50 M349.66 0.40 V4.60 M353.77 313.00 V309.50 M353.77 0.40 V4.60 M357.39 313.00 V309.50 M357.39 0.40 V4.60 M360.63 313.00 V306.50 M360.63 0.40 V7.40 M381.96 313.00 V309.50 M381.96 0.40 V4.60 M394.43 313.00 V309.50 M394.43 0.40 V4.60 M403.28 313.00 V309.50 M403.28 0.40 V4.60 M410.14 313.00 V309.50 M410.14 0.40 V4.60 M415.75 313.00 V309.50 M415.75 0.40 V4.60 M420.49 313.00 V309.50 M420.49 0.40 V4.60 M424.60 313.00 V309.50 M424.60 0.40 V4.60 M428.23 313.00 V309.50 M428.23 0.40 V4.60 M431.47 313.00 V306.50 M431.47 0.40 V7.40 M452.79 313.00 V309.50 M452.79 0.40 V4.60 M465.26 313.00 V309.50 M465.26 0.40 V4.60 M474.11 313.00 V309.50 M474.11 0.40 V4.60 M480.98 313.00 V309.50 M480.98 0.40 V4.60 M486.59 313.00 V309.50 M486.59 0.40 V4.60 M491.33 313.00 V309.50 M491.33 0.40 V4.60 M495.44 313.00 V309.50 M495.44 0.40 V4.60 M499.06 313.00 V309.50 M499.06 0.40 V4.60 M502.30 313.00 V306.50 M502.30 0.40 V7.40 M77.30 313.00 H83.80 M502.30 313.00 H495.80 M77.30 294.65 H80.80 M502.30 294.65 H498.80 M77.30 276.30 H83.80 M502.30 276.30 H495.80 M77.30 257.95 H80.80 M502.30 257.95 H498.80 M77.30 239.60 H83.80 M502.30 239.60 H495.80 M77.30 221.25 H80.80 M502.30 221.25 H498.80 M77.30 202.90 H83.80 M502.30 202.90 H495.80 M77.30 184.55 H80.80 M502.30 184.55 H498.80 M77.30 166.20 H83.80 M502.30 166.20 H495.80 M77.30 147.85 H80.80 M502.30 147.85 H498.80 M77.30 129.50 H83.80 M502.30 129.50 H495.80 M77.30 111.15 H80.80 M502.30 111.15 H498.80 M77.30 92.80 H83.80 M502.30 92.80 H495.80 M77.30 74.45 H80.80 M502.30 74.45 H498.80 M77.30 56.10 H83.80 M502.30 56.10 H495.80 M77.30 37.75 H80.80 M502.30 37.75 H498.80 M77.30 19.40 H83.80 M502.30 19.40 H495.80" stroke="#000" stroke-width="1.6" fill="none"/>
<text x="70.6" y="320.90" font-size="25.5" text-anchor="end">0</text>
<text x="70.6" y="284.20" font-size="25.5" text-anchor="end">2</text>
<text x="70.6" y="247.50" font-size="25.5" text-anchor="end">4</text>
<text x="70.6" y="210.80" font-size="25.5" text-anchor="end">6</text>
<text x="70.6" y="174.10" font-size="25.5" text-anchor="end">8</text>
<text x="70.6" y="137.40" font-size="25.5" text-anchor="end">10</text>
<text x="70.6" y="100.70" font-size="25.5" text-anchor="end">12</text>
<text x="70.6" y="64.00" font-size="25.5" text-anchor="end">14</text>
<text x="70.6" y="27.30" font-size="25.5" text-anchor="end">16</text>
<text x="77.30" y="345" font-size="25.5" text-anchor="middle">10<tspan font-size="16" dx="1" dy="-13">1</tspan></text>
<text x="148.13" y="345" font-size="25.5" text-anchor="middle">10<tspan font-size="16" dx="1" dy="-13">2</tspan></text>
<text x="218.97" y="345" font-size="25.5" text-anchor="middle">10<tspan font-size="16" dx="1" dy="-13">3</tspan></text>
<text x="289.80" y="345" font-size="25.5" text-anchor="middle">10<tspan font-size="16" dx="1" dy="-13">4</tspan></text>
<text x="360.63" y="345" font-size="25.5" text-anchor="middle">10<tspan font-size="16" dx="1" dy="-13">5</tspan></text>
<text x="431.47" y="345" font-size="25.5" text-anchor="middle">10<tspan font-size="16" dx="1" dy="-13">6</tspan></text>
<text x="502.30" y="345" font-size="25.5" text-anchor="middle">10<tspan font-size="16" dx="1" dy="-13">7</tspan></text>
<path d="M91.8 24.00 H134.2" stroke="#000000" stroke-width="2"/>
<text x="138.5" y="30.10" font-size="18">256 K</text>
<path d="M91.8 46.52 H134.2" stroke="#dc1e1e" stroke-width="2"/>
<text x="138.5" y="52.62" font-size="18">260</text>
<path d="M91.8 69.04 H134.2" stroke="#28dc28" stroke-width="2"/>
<text x="138.5" y="75.14" font-size="18">265</text>
<path d="M91.8 91.56 H134.2" stroke="#1e1ec8" stroke-width="2"/>
<text x="138.5" y="97.66" font-size="18">270</text>
<path d="M91.8 114.08 H134.2" stroke="#28dcdc" stroke-width="2"/>
<text x="138.5" y="120.18" font-size="18">275</text>
<path d="M91.8 136.60 H134.2" stroke="#dc1edc" stroke-width="2"/>
<text x="138.5" y="142.70" font-size="18">280</text>
<path d="M91.8 159.12 H134.2" stroke="#f0821e" stroke-width="2"/>
<text x="138.5" y="165.22" font-size="18">285</text>
<path d="M91.8 181.64 H134.2" stroke="#7d7d19" stroke-width="2"/>
<text x="138.5" y="187.74" font-size="18">290</text>
<path d="M91.8 204.16 H134.2" stroke="#1e1e78" stroke-width="2"/>
<text x="138.5" y="210.26" font-size="18">300</text>
<text x="432.5" y="37.8" font-size="23">ST2</text>
<text x="261" y="371.8" font-size="25.5"><tspan font-style="italic">t</tspan> (ps)</text>
<g transform="translate(25.4,201) rotate(-90)"><text font-size="24.5"><tspan x="1.5" y="1" font-family="DejaVu Serif, serif" font-style="italic" font-size="24">&#967;</tspan><tspan x="14.7" y="7.5" font-size="21">4</tspan><tspan x="16" y="-12.1" font-size="20">T</tspan><tspan x="35" y="0">(</tspan><tspan font-style="italic">t</tspan>)</text></g>
</svg></body></html>
